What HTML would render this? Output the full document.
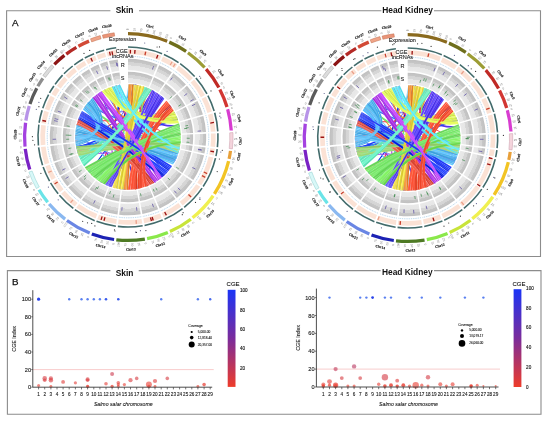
<!DOCTYPE html><html><head><meta charset="utf-8"><style>html,body{margin:0;padding:0;background:#fff;width:550px;height:423px;overflow:hidden}svg{display:block;font-family:"Liberation Sans",sans-serif;will-change:transform;}</style></head><body>
<svg width="550" height="423" viewBox="0 0 550 423">
<rect width="550" height="423" fill="#fff"/>
<g fill="none" stroke="#8c8c8c" stroke-width="1.1"><path d="M110.4 10.8H6.6V256.5H540.5V10.8H434M381.4 10.8H139"/><path d="M110.4 270.6H7.4V414.2H541V270.6H434M380.6 270.6H138.7"/></g>
<g font-weight="bold" fill="#111" font-size="8.4"><text x="124.5" y="13.2" text-anchor="middle">Skin</text><text x="407.6" y="13.3" text-anchor="middle">Head Kidney</text><text x="124.5" y="275.6" text-anchor="middle">Skin</text><text x="407.3" y="275.4" text-anchor="middle">Head Kidney</text></g>
<g fill="#111" stroke="#111" stroke-width="0.25" font-size="9.8"><text x="12" y="25.6">A</text><text x="12" y="285.4">B</text></g>
<g id="circ"><defs><radialGradient id="g1S" gradientUnits="userSpaceOnUse" cx="128" cy="137" r="65.2"><stop offset="0.830" stop-color="#e9e9e9"/><stop offset="0.901" stop-color="#e6e6e6"/><stop offset="0.901" stop-color="#d7d7d7"/><stop offset="0.949" stop-color="#d4d4d4"/><stop offset="0.949" stop-color="#c7c7c7"/><stop offset="1.000" stop-color="#c0c0c0"/></radialGradient><radialGradient id="g1R" gradientUnits="userSpaceOnUse" cx="128" cy="137" r="78.2"><stop offset="0.854" stop-color="#e9e9e9"/><stop offset="0.915" stop-color="#e6e6e6"/><stop offset="0.915" stop-color="#d7d7d7"/><stop offset="0.956" stop-color="#d4d4d4"/><stop offset="0.956" stop-color="#c7c7c7"/><stop offset="1.000" stop-color="#c0c0c0"/></radialGradient></defs>
<path d="M128 31.9A105.1 105.1 0 0 1 167.8 39.7L166.6 42.8A101.8 101.8 0 0 0 128 35.2Z" fill="#8a6a1e"/>
<path d="M169.9 40.6A105.1 105.1 0 0 1 187 50L185.2 52.8A101.8 101.8 0 0 0 168.6 43.7Z" fill="#6e6e1c"/>
<path d="M188.9 51.4A105.1 105.1 0 0 1 205.8 66.4L203.4 68.6A101.8 101.8 0 0 0 187 54Z" fill="#9c9c34"/>
<path d="M207.3 68.1A105.1 105.1 0 0 1 220.3 86.7L217.4 88.2A101.8 101.8 0 0 0 204.9 70.2Z" fill="#c02a26"/>
<path d="M221.3 88.7A105.1 105.1 0 0 1 228.6 106.6L225.4 107.5A101.8 101.8 0 0 0 218.4 90.2Z" fill="#d23632"/>
<path d="M229.2 108.8A105.1 105.1 0 0 1 232.9 130.4L229.6 130.6A101.8 101.8 0 0 0 226.1 109.7Z" fill="#d83cd0"/>
<path d="M233 132.6A105.1 105.1 0 0 1 232.4 148.9L229.2 148.5A101.8 101.8 0 0 0 229.7 132.8Z" fill="#f4d4dc" stroke="#c89aa8" stroke-width="0.5"/>
<path d="M232.1 151.1A105.1 105.1 0 0 1 230.7 159.3L227.5 158.6A101.8 101.8 0 0 0 228.9 150.7Z" fill="#e8a03a"/>
<path d="M230.2 161.6A105.1 105.1 0 0 1 215.8 194.8L213 193A101.8 101.8 0 0 0 227 160.8Z" fill="#f2c424"/>
<path d="M214.5 196.7A105.1 105.1 0 0 1 193.6 219.1L191.5 216.5A101.8 101.8 0 0 0 211.8 194.8Z" fill="#f0f050"/>
<path d="M191.8 220.5A105.1 105.1 0 0 1 170.6 233.1L169.3 230.1A101.8 101.8 0 0 0 189.8 217.9Z" fill="#c8e43a"/>
<path d="M168.5 234A105.1 105.1 0 0 1 147.4 240.3L146.8 237.1A101.8 101.8 0 0 0 167.2 230.9Z" fill="#8ae84a"/>
<path d="M145.1 240.7A105.1 105.1 0 0 1 116.1 241.4L116.5 238.2A101.8 101.8 0 0 0 144.6 237.4Z" fill="#4e7a24"/>
<path d="M113.9 241.1A105.1 105.1 0 0 1 91.2 235.5L92.4 232.4A101.8 101.8 0 0 0 114.3 237.9Z" fill="#1c22b4"/>
<path d="M89.1 234.6A105.1 105.1 0 0 1 66 221.8L67.9 219.2A101.8 101.8 0 0 0 90.3 231.6Z" fill="#6a86e4"/>
<path d="M64.1 220.5A105.1 105.1 0 0 1 47.9 205L50.4 202.9A101.8 101.8 0 0 0 66.1 217.8Z" fill="#8ab8f0"/>
<path d="M46.4 203.2A105.1 105.1 0 0 1 37.6 190.5L40.4 188.9A101.8 101.8 0 0 0 49 201.2Z" fill="#6ae4e8"/>
<path d="M36.4 188.6A105.1 105.1 0 0 1 28.9 172.1L32.1 171A101.8 101.8 0 0 0 39.3 186.9Z" fill="#d8f8f8" stroke="#8ccccc" stroke-width="0.5"/>
<path d="M28.2 170A105.1 105.1 0 0 1 23.6 149.1L26.9 148.7A101.8 101.8 0 0 0 31.3 168.9Z" fill="#7a22c4"/>
<path d="M23.4 146.8A105.1 105.1 0 0 1 23.9 122.6L27.2 123.1A101.8 101.8 0 0 0 26.6 146.5Z" fill="#a442e0"/>
<path d="M24.2 120.3A105.1 105.1 0 0 1 27.7 105.6L30.8 106.6A101.8 101.8 0 0 0 27.5 120.9Z" fill="#b894e8"/>
<path d="M28.4 103.4A105.1 105.1 0 0 1 35.3 87.5L38.2 89.1A101.8 101.8 0 0 0 31.5 104.5Z" fill="#5a5a5a"/>
<path d="M36.4 85.5A105.1 105.1 0 0 1 41.5 77.4L44.2 79.2A101.8 101.8 0 0 0 39.2 87.1Z" fill="#8e8e8e"/>
<path d="M42.8 75.5A105.1 105.1 0 0 1 51.6 64.8L54 67.1A101.8 101.8 0 0 0 45.5 77.4Z" fill="#dcdcdc" stroke="#a0a0a0" stroke-width="0.5"/>
<path d="M53.2 63.2A105.1 105.1 0 0 1 63.4 54.1L65.4 56.7A101.8 101.8 0 0 0 55.5 65.5Z" fill="#8c1414"/>
<path d="M65.2 52.7A105.1 105.1 0 0 1 75.6 45.9L77.2 48.8A101.8 101.8 0 0 0 67.2 55.4Z" fill="#b42a26"/>
<path d="M77.6 44.8A105.1 105.1 0 0 1 88.4 39.6L89.7 42.7A101.8 101.8 0 0 0 79.2 47.7Z" fill="#d24a36"/>
<path d="M90.5 38.8A105.1 105.1 0 0 1 100.2 35.6L101.1 38.8A101.8 101.8 0 0 0 91.7 41.9Z" fill="#f0a488" stroke="#c07050" stroke-width="0.5"/>
<path d="M102.4 35.1A105.1 105.1 0 0 1 114.2 32.8L114.7 36.1A101.8 101.8 0 0 0 103.2 38.3Z" fill="#ea9478" stroke="#c07050" stroke-width="0.5"/>
<g font-size="3" fill="#7e7e7e" text-anchor="middle" dominant-baseline="central">
<text x="128" y="29.2" transform="rotate(-90 128 29.2)">0</text>
<text x="134.6" y="29.4" transform="rotate(-86.5 134.6 29.4)">25</text>
<text x="141.2" y="30" transform="rotate(-83 141.2 30)">50</text>
<text x="147.7" y="31" transform="rotate(-79.5 147.7 31)">75</text>
<text x="154.1" y="32.4" transform="rotate(-76 154.1 32.4)">100</text>
<text x="160.4" y="34.2" transform="rotate(-72.5 160.4 34.2)">125</text>
<text x="166.7" y="36.4" transform="rotate(-69 166.7 36.4)">150</text>
<text x="171" y="38.2" transform="rotate(-66.5 171 38.2)">0</text>
<text x="177.2" y="41.1" transform="rotate(-62.8 177.2 41.1)">25</text>
<text x="183.2" y="44.4" transform="rotate(-59.2 183.2 44.4)">50</text>
<text x="190.5" y="49.2" transform="rotate(-54.6 190.5 49.2)">0</text>
<text x="195.5" y="53" transform="rotate(-51.2 195.5 53)">25</text>
<text x="200.3" y="57" transform="rotate(-47.9 200.3 57)">50</text>
<text x="204.9" y="61.4" transform="rotate(-44.5 204.9 61.4)">75</text>
<text x="209.4" y="66.3" transform="rotate(-41 209.4 66.3)">0</text>
<text x="213.8" y="71.8" transform="rotate(-37.2 213.8 71.8)">25</text>
<text x="217.9" y="77.6" transform="rotate(-33.5 217.9 77.6)">50</text>
<text x="221.6" y="83.6" transform="rotate(-29.7 221.6 83.6)">75</text>
<text x="223.7" y="87.4" transform="rotate(-27.4 223.7 87.4)">0</text>
<text x="226.4" y="93" transform="rotate(-24.1 226.4 93)">25</text>
<text x="228.8" y="98.8" transform="rotate(-20.8 228.8 98.8)">50</text>
<text x="230.8" y="104.6" transform="rotate(-17.5 230.8 104.6)">75</text>
<text x="231.8" y="108.1" transform="rotate(-15.6 231.8 108.1)">0</text>
<text x="233.4" y="114.3" transform="rotate(-12.2 233.4 114.3)">25</text>
<text x="234.5" y="120.6" transform="rotate(-8.7 234.5 120.6)">50</text>
<text x="235.3" y="127" transform="rotate(-5.3 235.3 127)">75</text>
<text x="235.7" y="132.5" transform="rotate(-2.4 235.7 132.5)">0</text>
<text x="235.8" y="139" transform="rotate(1 235.8 139)">25</text>
<text x="235.5" y="145.4" transform="rotate(4.5 235.5 145.4)">50</text>
<text x="234.8" y="151.5" transform="rotate(7.7 234.8 151.5)">0</text>
<text x="233.5" y="158.9" transform="rotate(11.7 233.5 158.9)">25</text>
<text x="232.8" y="162.2" transform="rotate(13.5 232.8 162.2)">0</text>
<text x="231.1" y="168.5" transform="rotate(17 231.1 168.5)">25</text>
<text x="229" y="174.8" transform="rotate(20.5 229 174.8)">50</text>
<text x="226.5" y="180.8" transform="rotate(24 226.5 180.8)">75</text>
<text x="223.6" y="186.8" transform="rotate(27.5 223.6 186.8)">100</text>
<text x="220.4" y="192.5" transform="rotate(31 220.4 192.5)">125</text>
<text x="216.7" y="198.3" transform="rotate(34.6 216.7 198.3)">0</text>
<text x="212.8" y="203.6" transform="rotate(38.1 212.8 203.6)">25</text>
<text x="208.6" y="208.6" transform="rotate(41.6 208.6 208.6)">50</text>
<text x="204" y="213.4" transform="rotate(45.1 204 213.4)">75</text>
<text x="199.2" y="217.9" transform="rotate(48.6 199.2 217.9)">100</text>
<text x="193.4" y="222.7" transform="rotate(52.6 193.4 222.7)">0</text>
<text x="188.4" y="226.3" transform="rotate(55.9 188.4 226.3)">25</text>
<text x="183.2" y="229.6" transform="rotate(59.2 183.2 229.6)">50</text>
<text x="177.8" y="232.6" transform="rotate(62.5 177.8 232.6)">75</text>
<text x="172.3" y="235.3" transform="rotate(65.8 172.3 235.3)">100</text>
<text x="169.6" y="236.5" transform="rotate(67.3 169.6 236.5)">0</text>
<text x="164.1" y="238.6" transform="rotate(70.5 164.1 238.6)">25</text>
<text x="158.4" y="240.4" transform="rotate(73.6 158.4 240.4)">50</text>
<text x="152.7" y="241.9" transform="rotate(76.7 152.7 241.9)">75</text>
<text x="145.6" y="243.4" transform="rotate(80.6 145.6 243.4)">0</text>
<text x="138.9" y="244.2" transform="rotate(84.2 138.9 244.2)">25</text>
<text x="132.2" y="244.7" transform="rotate(87.8 132.2 244.7)">50</text>
<text x="125.4" y="244.8" transform="rotate(271.4 125.4 244.8)">75</text>
<text x="118.7" y="244.4" transform="rotate(275 118.7 244.4)">100</text>
<text x="113.5" y="243.8" transform="rotate(277.7 113.5 243.8)">0</text>
<text x="107.6" y="242.8" transform="rotate(280.9 107.6 242.8)">25</text>
<text x="101.7" y="241.5" transform="rotate(284.1 101.7 241.5)">50</text>
<text x="95.9" y="239.9" transform="rotate(287.3 95.9 239.9)">75</text>
<text x="88.1" y="237.1" transform="rotate(291.7 88.1 237.1)">0</text>
<text x="82.2" y="234.6" transform="rotate(295.2 82.2 234.6)">25</text>
<text x="76.4" y="231.6" transform="rotate(298.6 76.4 231.6)">50</text>
<text x="70.8" y="228.4" transform="rotate(302 70.8 228.4)">75</text>
<text x="65.4" y="224.8" transform="rotate(305.5 65.4 224.8)">100</text>
<text x="62.5" y="222.6" transform="rotate(307.4 62.5 222.6)">0</text>
<text x="57.4" y="218.5" transform="rotate(310.9 57.4 218.5)">25</text>
<text x="52.6" y="214.1" transform="rotate(314.4 52.6 214.1)">50</text>
<text x="48.1" y="209.4" transform="rotate(317.8 48.1 209.4)">75</text>
<text x="44.3" y="205" transform="rotate(320.9 44.3 205)">0</text>
<text x="40.4" y="199.9" transform="rotate(324.3 40.4 199.9)">25</text>
<text x="36.9" y="194.6" transform="rotate(327.7 36.9 194.6)">50</text>
<text x="34.1" y="189.9" transform="rotate(330.6 34.1 189.9)">0</text>
<text x="30.8" y="183.5" transform="rotate(334.4 30.8 183.5)">25</text>
<text x="27.9" y="177" transform="rotate(338.2 27.9 177)">50</text>
<text x="25.6" y="170.8" transform="rotate(341.7 25.6 170.8)">0</text>
<text x="23.9" y="164.8" transform="rotate(345 23.9 164.8)">25</text>
<text x="22.4" y="158.8" transform="rotate(348.3 22.4 158.8)">50</text>
<text x="21.3" y="152.7" transform="rotate(351.6 21.3 152.7)">75</text>
<text x="20.7" y="147.1" transform="rotate(354.6 20.7 147.1)">0</text>
<text x="20.3" y="140.6" transform="rotate(358.1 20.3 140.6)">25</text>
<text x="20.2" y="134.1" transform="rotate(361.6 20.2 134.1)">50</text>
<text x="20.6" y="127.6" transform="rotate(365 20.6 127.6)">75</text>
<text x="21.6" y="119.9" transform="rotate(369.1 21.6 119.9)">0</text>
<text x="22.8" y="113.5" transform="rotate(372.6 22.8 113.5)">25</text>
<text x="24.4" y="107.2" transform="rotate(376 24.4 107.2)">50</text>
<text x="25.8" y="102.6" transform="rotate(378.6 25.8 102.6)">0</text>
<text x="28.3" y="96" transform="rotate(382.3 28.3 96)">25</text>
<text x="31.2" y="89.7" transform="rotate(386.1 31.2 89.7)">50</text>
<text x="34" y="84.2" transform="rotate(389.3 34 84.2)">0</text>
<text x="36.6" y="79.9" transform="rotate(392 36.6 79.9)">25</text>
<text x="40.6" y="73.9" transform="rotate(395.8 40.6 73.9)">0</text>
<text x="45.1" y="68.1" transform="rotate(399.7 45.1 68.1)">25</text>
<text x="51.3" y="61.3" transform="rotate(404.6 51.3 61.3)">0</text>
<text x="56.3" y="56.5" transform="rotate(408.3 56.3 56.5)">25</text>
<text x="61.5" y="52.1" transform="rotate(411.9 61.5 52.1)">50</text>
<text x="63.6" y="50.5" transform="rotate(413.3 63.6 50.5)">0</text>
<text x="69.1" y="46.7" transform="rotate(416.9 69.1 46.7)">25</text>
<text x="76.3" y="42.4" transform="rotate(421.3 76.3 42.4)">0</text>
<text x="82.5" y="39.3" transform="rotate(425.1 82.5 39.3)">25</text>
<text x="89.6" y="36.3" transform="rotate(429.1 89.6 36.3)">0</text>
<text x="95.7" y="34.2" transform="rotate(432.6 95.7 34.2)">25</text>
<text x="101.8" y="32.4" transform="rotate(435.9 101.8 32.4)">0</text>
<text x="108.8" y="30.9" transform="rotate(439.8 108.8 30.9)">25</text>
</g><g font-size="3.6" font-weight="bold" fill="#1e1e1e" stroke="#1e1e1e" stroke-width="0.15" font-family="Liberation Serif" text-anchor="middle" dominant-baseline="central">
<text x="149.8" y="26.5" transform="rotate(11.1 149.8 26.5)">Chr1</text>
<text x="182.3" y="38.4" transform="rotate(28.9 182.3 38.4)">Chr2</text>
<text x="202.8" y="52.8" transform="rotate(41.6 202.8 52.8)">Chr3</text>
<text x="220.5" y="72.7" transform="rotate(55.2 220.5 72.7)">Chr4</text>
<text x="232.3" y="94.6" transform="rotate(67.9 232.3 94.6)">Chr5</text>
<text x="239" y="118.2" transform="rotate(80.4 239 118.2)">Chr6</text>
<text x="240.5" y="141" transform="rotate(-88 240.5 141)">Chr7</text>
<text x="238.9" y="156.6" transform="rotate(-80 238.9 156.6)">Chr8</text>
<text x="231.3" y="181.8" transform="rotate(-66.5 231.3 181.8)">Chr9</text>
<text x="210.4" y="213.8" transform="rotate(-47 210.4 213.8)">Chr10</text>
<text x="185.4" y="233.9" transform="rotate(-30.7 185.4 233.9)">Chr11</text>
<text x="160.3" y="244.9" transform="rotate(-16.7 160.3 244.9)">Chr12</text>
<text x="130.8" y="249.6" transform="rotate(-1.4 130.8 249.6)">Chr13</text>
<text x="100.6" y="246.2" transform="rotate(14.1 100.6 246.2)">Chr14</text>
<text x="73.5" y="235.5" transform="rotate(28.9 73.5 235.5)">Chr15</text>
<text x="50.4" y="218.6" transform="rotate(43.6 50.4 218.6)">Chr16</text>
<text x="35.6" y="201.3" transform="rotate(55.2 35.6 201.3)">Chr17</text>
<text x="25.5" y="183.6" transform="rotate(65.6 25.5 183.6)">Chr18</text>
<text x="18" y="161.3" transform="rotate(77.6 18 161.3)">Chr19</text>
<text x="15.4" y="134.5" transform="rotate(271.2 15.4 134.5)">Chr20</text>
<text x="18.4" y="111.2" transform="rotate(283.2 18.4 111.2)">Chr21</text>
<text x="24.6" y="92.4" transform="rotate(293.4 24.6 92.4)">Chr22</text>
<text x="32.5" y="77.4" transform="rotate(301.9 32.5 77.4)">Chr23</text>
<text x="41.2" y="65.2" transform="rotate(309.6 41.2 65.2)">Chr24</text>
<text x="53.2" y="52.9" transform="rotate(318.4 53.2 52.9)">Chr25</text>
<text x="66.2" y="42.9" transform="rotate(326.7 66.2 42.9)">Chr26</text>
<text x="79.7" y="35.3" transform="rotate(334.6 79.7 35.3)">Chr27</text>
<text x="93" y="30" transform="rotate(341.9 93 30)">Chr28</text>
<text x="106.9" y="26.4" transform="rotate(349.2 106.9 26.4)">Chr29</text>
</g>
<path d="M128 46.2A90.8 90.8 0 0 1 162.4 53L161.8 54.5A89.2 89.2 0 0 0 128 47.8Z" fill="#426b6b"/>
<path d="M128 49.3A87.7 87.7 0 0 1 161.2 55.8L159.5 60.2A83 83 0 0 0 128 54Z" fill="#fbe2d5"/>
<path d="M128 56.2A80.8 80.8 0 0 1 158.6 62.2" fill="none" stroke="#8fbfe2" stroke-width="0.75" stroke-dasharray="0.9 0.9"/>
<path d="M128 58.8A78.2 78.2 0 0 1 157.6 64.6L153.3 75.2A66.8 66.8 0 0 0 128 70.2Z" fill="url(#g1R)"/>
<path d="M128 71.8A65.2 65.2 0 0 1 152.7 76.7L148.5 86.9A54.1 54.1 0 0 0 128 82.9Z" fill="url(#g1S)"/>
<path d="M164.2 53.7A90.8 90.8 0 0 1 179 61.9L178.1 63.2A89.2 89.2 0 0 0 163.6 55.2Z" fill="#426b6b"/>
<path d="M163 56.6A87.7 87.7 0 0 1 177.3 64.4L174.6 68.3A83 83 0 0 0 161.1 60.9Z" fill="#fbe2d5"/>
<path d="M160.3 62.9A80.8 80.8 0 0 1 173.4 70.2" fill="none" stroke="#8fbfe2" stroke-width="0.75" stroke-dasharray="0.9 0.9"/>
<path d="M159.2 65.3A78.2 78.2 0 0 1 171.9 72.3L165.5 81.7A66.8 66.8 0 0 0 154.7 75.8Z" fill="url(#g1R)"/>
<path d="M154 77.2A65.2 65.2 0 0 1 164.6 83.1L158.4 92.2A54.1 54.1 0 0 0 149.6 87.4Z" fill="url(#g1S)"/>
<path d="M180.6 63A90.8 90.8 0 0 1 195.2 76L194.1 77.1A89.2 89.2 0 0 0 179.7 64.3Z" fill="#426b6b"/>
<path d="M178.8 65.5A87.7 87.7 0 0 1 192.9 78.1L189.5 81.2A83 83 0 0 0 176.1 69.4Z" fill="#fbe2d5"/>
<path d="M174.8 71.2A80.8 80.8 0 0 1 187.8 82.7" fill="none" stroke="#8fbfe2" stroke-width="0.75" stroke-dasharray="0.9 0.9"/>
<path d="M173.3 73.3A78.2 78.2 0 0 1 185.9 84.4L177.5 92.1A66.8 66.8 0 0 0 166.7 82.6Z" fill="url(#g1R)"/>
<path d="M165.8 83.9A65.2 65.2 0 0 1 176.3 93.2L168.1 100.6A54.1 54.1 0 0 0 159.4 92.9Z" fill="url(#g1S)"/>
<path d="M196.6 77.5A90.8 90.8 0 0 1 207.7 93.5L206.3 94.3A89.2 89.2 0 0 0 195.3 78.5Z" fill="#426b6b"/>
<path d="M194.2 79.5A87.7 87.7 0 0 1 205 95L200.9 97.2A83 83 0 0 0 190.7 82.6Z" fill="#fbe2d5"/>
<path d="M189 84A80.8 80.8 0 0 1 198.9 98.3" fill="none" stroke="#8fbfe2" stroke-width="0.75" stroke-dasharray="0.9 0.9"/>
<path d="M187 85.7A78.2 78.2 0 0 1 196.6 99.5L186.6 105A66.8 66.8 0 0 0 178.4 93.2Z" fill="url(#g1R)"/>
<path d="M177.2 94.2A65.2 65.2 0 0 1 185.2 105.8L175.5 111.1A54.1 54.1 0 0 0 168.8 101.5Z" fill="url(#g1S)"/>
<path d="M208.6 95.2A90.8 90.8 0 0 1 214.9 110.7L213.4 111.2A89.2 89.2 0 0 0 207.2 96Z" fill="#426b6b"/>
<path d="M205.9 96.7A87.7 87.7 0 0 1 211.9 111.6L207.4 113A83 83 0 0 0 201.7 98.8Z" fill="#fbe2d5"/>
<path d="M199.8 99.8A80.8 80.8 0 0 1 205.3 113.6" fill="none" stroke="#8fbfe2" stroke-width="0.75" stroke-dasharray="0.9 0.9"/>
<path d="M197.4 101A78.2 78.2 0 0 1 202.9 114.4L191.9 117.7A66.8 66.8 0 0 0 187.3 106.3Z" fill="url(#g1R)"/>
<path d="M185.9 107A65.2 65.2 0 0 1 190.4 118.1L179.8 121.3A54.1 54.1 0 0 0 176 112.1Z" fill="url(#g1S)"/>
<path d="M215.5 112.6A90.8 90.8 0 0 1 218.6 131.3L217 131.4A89.2 89.2 0 0 0 213.9 113Z" fill="#426b6b"/>
<path d="M212.5 113.5A87.7 87.7 0 0 1 215.5 131.5L210.8 131.8A83 83 0 0 0 208 114.7Z" fill="#fbe2d5"/>
<path d="M205.8 115.3A80.8 80.8 0 0 1 208.6 131.9" fill="none" stroke="#8fbfe2" stroke-width="0.75" stroke-dasharray="0.9 0.9"/>
<path d="M203.3 116A78.2 78.2 0 0 1 206 132.1L194.7 132.8A66.8 66.8 0 0 0 192.3 119.1Z" fill="url(#g1R)"/>
<path d="M190.8 119.5A65.2 65.2 0 0 1 193.1 132.9L182 133.6A54.1 54.1 0 0 0 180.1 122.5Z" fill="url(#g1S)"/>
<path d="M218.7 133.2A90.8 90.8 0 0 1 218.2 147.2L216.6 147.1A89.2 89.2 0 0 0 217.1 133.3Z" fill="#426b6b"/>
<path d="M215.6 133.4A87.7 87.7 0 0 1 215.1 146.9L210.5 146.4A83 83 0 0 0 210.9 133.6Z" fill="#fbe2d5"/>
<path d="M208.7 133.7A80.8 80.8 0 0 1 208.3 146.1" fill="none" stroke="#8fbfe2" stroke-width="0.75" stroke-dasharray="0.9 0.9"/>
<path d="M206.1 133.8A78.2 78.2 0 0 1 205.7 145.8L194.4 144.5A66.8 66.8 0 0 0 194.7 134.2Z" fill="url(#g1R)"/>
<path d="M193.1 134.3A65.2 65.2 0 0 1 192.8 144.4L181.8 143.1A54.1 54.1 0 0 0 182.1 134.8Z" fill="url(#g1S)"/>
<path d="M218 149.2A90.8 90.8 0 0 1 216.7 156.3L215.2 156A89.2 89.2 0 0 0 216.4 149Z" fill="#426b6b"/>
<path d="M214.9 148.8A87.7 87.7 0 0 1 213.7 155.6L209.1 154.6A83 83 0 0 0 210.2 148.2Z" fill="#fbe2d5"/>
<path d="M208.1 147.9A80.8 80.8 0 0 1 207 154.2" fill="none" stroke="#8fbfe2" stroke-width="0.75" stroke-dasharray="0.9 0.9"/>
<path d="M205.5 147.5A78.2 78.2 0 0 1 204.4 153.6L193.3 151.2A66.8 66.8 0 0 0 194.2 146Z" fill="url(#g1R)"/>
<path d="M192.6 145.8A65.2 65.2 0 0 1 191.7 150.9L180.9 148.5A54.1 54.1 0 0 0 181.6 144.3Z" fill="url(#g1S)"/>
<path d="M216.3 158.2A90.8 90.8 0 0 1 203.8 187L202.5 186.1A89.2 89.2 0 0 0 214.7 157.9Z" fill="#426b6b"/>
<path d="M213.3 157.5A87.7 87.7 0 0 1 201.2 185.2L197.3 182.7A83 83 0 0 0 208.7 156.4Z" fill="#fbe2d5"/>
<path d="M206.6 155.9A80.8 80.8 0 0 1 195.5 181.4" fill="none" stroke="#8fbfe2" stroke-width="0.75" stroke-dasharray="0.9 0.9"/>
<path d="M204 155.3A78.2 78.2 0 0 1 193.3 180L183.8 173.7A66.8 66.8 0 0 0 192.9 152.6Z" fill="url(#g1R)"/>
<path d="M191.4 152.2A65.2 65.2 0 0 1 182.4 172.9L173.2 166.8A54.1 54.1 0 0 0 180.6 149.7Z" fill="url(#g1S)"/>
<path d="M202.7 188.6A90.8 90.8 0 0 1 184.7 207.9L183.7 206.7A89.2 89.2 0 0 0 201.4 187.7Z" fill="#426b6b"/>
<path d="M200.2 186.8A87.7 87.7 0 0 1 182.7 205.5L179.8 201.8A83 83 0 0 0 196.3 184.2Z" fill="#fbe2d5"/>
<path d="M194.5 182.9A80.8 80.8 0 0 1 178.4 200.1" fill="none" stroke="#8fbfe2" stroke-width="0.75" stroke-dasharray="0.9 0.9"/>
<path d="M192.4 181.4A78.2 78.2 0 0 1 176.8 198.1L169.7 189.2A66.8 66.8 0 0 0 183 175Z" fill="url(#g1R)"/>
<path d="M181.7 174A65.2 65.2 0 0 1 168.7 187.9L161.8 179.3A54.1 54.1 0 0 0 172.5 167.7Z" fill="url(#g1S)"/>
<path d="M183.1 209.2A90.8 90.8 0 0 1 164.8 220L164.2 218.5A89.2 89.2 0 0 0 182.1 207.9Z" fill="#426b6b"/>
<path d="M181.2 206.7A87.7 87.7 0 0 1 163.6 217.2L161.7 212.9A83 83 0 0 0 178.4 203Z" fill="#fbe2d5"/>
<path d="M177 201.2A80.8 80.8 0 0 1 160.8 210.9" fill="none" stroke="#8fbfe2" stroke-width="0.75" stroke-dasharray="0.9 0.9"/>
<path d="M175.5 199.1A78.2 78.2 0 0 1 159.7 208.5L155.1 198.1A66.8 66.8 0 0 0 168.6 190.1Z" fill="url(#g1R)"/>
<path d="M167.6 188.8A65.2 65.2 0 0 1 154.4 196.6L149.9 186.5A54.1 54.1 0 0 0 160.8 180Z" fill="url(#g1S)"/>
<path d="M163 220.8A90.8 90.8 0 0 1 144.7 226.2L144.4 224.7A89.2 89.2 0 0 0 162.4 219.3Z" fill="#426b6b"/>
<path d="M161.8 217.9A87.7 87.7 0 0 1 144.2 223.2L143.3 218.6A83 83 0 0 0 160 213.6Z" fill="#fbe2d5"/>
<path d="M159.1 211.6A80.8 80.8 0 0 1 142.9 216.4" fill="none" stroke="#8fbfe2" stroke-width="0.75" stroke-dasharray="0.9 0.9"/>
<path d="M158.1 209.2A78.2 78.2 0 0 1 142.4 213.9L140.3 202.7A66.8 66.8 0 0 0 153.8 198.6Z" fill="url(#g1R)"/>
<path d="M153.1 197.2A65.2 65.2 0 0 1 140 201.1L138 190.2A54.1 54.1 0 0 0 148.9 186.9Z" fill="url(#g1S)"/>
<path d="M142.8 226.6A90.8 90.8 0 0 1 117.8 227.2L117.9 225.6A89.2 89.2 0 0 0 142.5 225Z" fill="#426b6b"/>
<path d="M142.3 223.5A87.7 87.7 0 0 1 118.1 224.1L118.6 219.5A83 83 0 0 0 141.5 218.9Z" fill="#fbe2d5"/>
<path d="M141.2 216.7A80.8 80.8 0 0 1 118.9 217.3" fill="none" stroke="#8fbfe2" stroke-width="0.75" stroke-dasharray="0.9 0.9"/>
<path d="M140.7 214.2A78.2 78.2 0 0 1 119.2 214.7L120.5 203.4A66.8 66.8 0 0 0 138.9 202.9Z" fill="url(#g1R)"/>
<path d="M138.6 201.3A65.2 65.2 0 0 1 120.6 201.8L121.9 190.8A54.1 54.1 0 0 0 136.8 190.4Z" fill="url(#g1S)"/>
<path d="M115.8 227A90.8 90.8 0 0 1 96.2 222.1L96.8 220.6A89.2 89.2 0 0 0 116 225.4Z" fill="#426b6b"/>
<path d="M116.2 223.9A87.7 87.7 0 0 1 97.3 219.2L99 214.8A83 83 0 0 0 116.8 219.2Z" fill="#fbe2d5"/>
<path d="M117.1 217.1A80.8 80.8 0 0 1 99.7 212.7" fill="none" stroke="#8fbfe2" stroke-width="0.75" stroke-dasharray="0.9 0.9"/>
<path d="M117.5 214.5A78.2 78.2 0 0 1 100.6 210.3L104.6 199.6A66.8 66.8 0 0 0 119 203.2Z" fill="url(#g1R)"/>
<path d="M119.2 201.6A65.2 65.2 0 0 1 105.2 198.1L109.1 187.7A54.1 54.1 0 0 0 120.7 190.6Z" fill="url(#g1S)"/>
<path d="M94.4 221.4A90.8 90.8 0 0 1 74.4 210.3L75.3 209A89.2 89.2 0 0 0 95 219.9Z" fill="#426b6b"/>
<path d="M95.5 218.5A87.7 87.7 0 0 1 76.2 207.8L79 204A83 83 0 0 0 97.3 214.1Z" fill="#fbe2d5"/>
<path d="M98.1 212.1A80.8 80.8 0 0 1 80.3 202.2" fill="none" stroke="#8fbfe2" stroke-width="0.75" stroke-dasharray="0.9 0.9"/>
<path d="M99.1 209.6A78.2 78.2 0 0 1 81.8 200.1L88.6 190.9A66.8 66.8 0 0 0 103.3 199.1Z" fill="url(#g1R)"/>
<path d="M103.9 197.6A65.2 65.2 0 0 1 89.5 189.6L96.1 180.7A54.1 54.1 0 0 0 108 187.3Z" fill="url(#g1S)"/>
<path d="M72.8 209.1A90.8 90.8 0 0 1 58.8 195.8L60 194.7A89.2 89.2 0 0 0 73.8 207.8Z" fill="#426b6b"/>
<path d="M74.7 206.6A87.7 87.7 0 0 1 61.1 193.8L64.7 190.7A83 83 0 0 0 77.6 202.9Z" fill="#fbe2d5"/>
<path d="M78.9 201.2A80.8 80.8 0 0 1 66.4 189.3" fill="none" stroke="#8fbfe2" stroke-width="0.75" stroke-dasharray="0.9 0.9"/>
<path d="M80.5 199.1A78.2 78.2 0 0 1 68.4 187.6L77.1 180.2A66.8 66.8 0 0 0 87.4 190Z" fill="url(#g1R)"/>
<path d="M88.4 188.8A65.2 65.2 0 0 1 78.3 179.2L86.8 172A54.1 54.1 0 0 0 95.1 180Z" fill="url(#g1S)"/>
<path d="M57.5 194.2A90.8 90.8 0 0 1 49.9 183.3L51.2 182.4A89.2 89.2 0 0 0 58.8 193.2Z" fill="#426b6b"/>
<path d="M59.9 192.3A87.7 87.7 0 0 1 52.5 181.7L56.6 179.3A83 83 0 0 0 63.6 189.3Z" fill="#fbe2d5"/>
<path d="M65.3 187.9A80.8 80.8 0 0 1 58.5 178.2" fill="none" stroke="#8fbfe2" stroke-width="0.75" stroke-dasharray="0.9 0.9"/>
<path d="M67.3 186.3A78.2 78.2 0 0 1 60.7 176.8L70.5 171A66.8 66.8 0 0 0 76.1 179.1Z" fill="url(#g1R)"/>
<path d="M77.4 178.1A65.2 65.2 0 0 1 71.9 170.2L81.4 164.6A54.1 54.1 0 0 0 86 171.1Z" fill="url(#g1S)"/>
<path d="M48.9 181.5A90.8 90.8 0 0 1 42.4 167.3L43.9 166.8A89.2 89.2 0 0 0 50.3 180.8Z" fill="#426b6b"/>
<path d="M51.6 180A87.7 87.7 0 0 1 45.3 166.3L49.8 164.7A83 83 0 0 0 55.7 177.7Z" fill="#fbe2d5"/>
<path d="M57.6 176.6A80.8 80.8 0 0 1 51.8 164" fill="none" stroke="#8fbfe2" stroke-width="0.75" stroke-dasharray="0.9 0.9"/>
<path d="M59.9 175.4A78.2 78.2 0 0 1 54.3 163.1L65 159.3A66.8 66.8 0 0 0 69.8 169.8Z" fill="url(#g1R)"/>
<path d="M71.2 169A65.2 65.2 0 0 1 66.5 158.8L77 155.1A54.1 54.1 0 0 0 80.9 163.5Z" fill="url(#g1S)"/>
<path d="M41.8 165.5A90.8 90.8 0 0 1 37.8 147.5L39.4 147.3A89.2 89.2 0 0 0 43.3 165Z" fill="#426b6b"/>
<path d="M44.7 164.5A87.7 87.7 0 0 1 40.9 147.1L45.6 146.6A83 83 0 0 0 49.2 163Z" fill="#fbe2d5"/>
<path d="M51.3 162.3A80.8 80.8 0 0 1 47.7 146.3" fill="none" stroke="#8fbfe2" stroke-width="0.75" stroke-dasharray="0.9 0.9"/>
<path d="M53.7 161.5A78.2 78.2 0 0 1 50.3 146L61.6 144.7A66.8 66.8 0 0 0 64.6 157.9Z" fill="url(#g1R)"/>
<path d="M66.1 157.4A65.2 65.2 0 0 1 63.2 144.5L74.3 143.2A54.1 54.1 0 0 0 76.6 154Z" fill="url(#g1S)"/>
<path d="M37.6 145.5A90.8 90.8 0 0 1 38.1 124.6L39.6 124.8A89.2 89.2 0 0 0 39.2 145.4Z" fill="#426b6b"/>
<path d="M40.7 145.2A87.7 87.7 0 0 1 41.1 125L45.8 125.6A83 83 0 0 0 45.4 144.8Z" fill="#fbe2d5"/>
<path d="M47.6 144.6A80.8 80.8 0 0 1 48 125.9" fill="none" stroke="#8fbfe2" stroke-width="0.75" stroke-dasharray="0.9 0.9"/>
<path d="M50.1 144.3A78.2 78.2 0 0 1 50.5 126.3L61.8 127.8A66.8 66.8 0 0 0 61.5 143.3Z" fill="url(#g1R)"/>
<path d="M63.1 143.1A65.2 65.2 0 0 1 63.4 128.1L74.4 129.6A54.1 54.1 0 0 0 74.1 142.1Z" fill="url(#g1S)"/>
<path d="M38.3 122.6A90.8 90.8 0 0 1 41.3 109.9L42.9 110.4A89.2 89.2 0 0 0 39.9 122.9Z" fill="#426b6b"/>
<path d="M41.4 123.1A87.7 87.7 0 0 1 44.3 110.8L48.8 112.2A83 83 0 0 0 46.1 123.8Z" fill="#fbe2d5"/>
<path d="M48.2 124.2A80.8 80.8 0 0 1 50.9 112.9" fill="none" stroke="#8fbfe2" stroke-width="0.75" stroke-dasharray="0.9 0.9"/>
<path d="M50.8 124.6A78.2 78.2 0 0 1 53.4 113.6L64.2 117.1A66.8 66.8 0 0 0 62 126.4Z" fill="url(#g1R)"/>
<path d="M63.6 126.7A65.2 65.2 0 0 1 65.8 117.5L76.4 120.8A54.1 54.1 0 0 0 74.6 128.4Z" fill="url(#g1S)"/>
<path d="M42 108A90.8 90.8 0 0 1 47.9 94.3L49.3 95A89.2 89.2 0 0 0 43.5 108.5Z" fill="#426b6b"/>
<path d="M44.9 109A87.7 87.7 0 0 1 50.6 95.7L54.8 97.9A83 83 0 0 0 49.3 110.5Z" fill="#fbe2d5"/>
<path d="M51.4 111.2A80.8 80.8 0 0 1 56.7 99" fill="none" stroke="#8fbfe2" stroke-width="0.75" stroke-dasharray="0.9 0.9"/>
<path d="M53.9 112A78.2 78.2 0 0 1 59 100.2L69.1 105.6A66.8 66.8 0 0 0 64.7 115.7Z" fill="url(#g1R)"/>
<path d="M66.2 116.2A65.2 65.2 0 0 1 70.5 106.3L80.3 111.5A54.1 54.1 0 0 0 76.7 119.7Z" fill="url(#g1S)"/>
<path d="M48.8 92.5A90.8 90.8 0 0 1 53.2 85.5L54.6 86.4A89.2 89.2 0 0 0 50.2 93.3Z" fill="#426b6b"/>
<path d="M51.5 94A87.7 87.7 0 0 1 55.8 87.2L59.7 89.9A83 83 0 0 0 55.6 96.4Z" fill="#fbe2d5"/>
<path d="M57.6 97.4A80.8 80.8 0 0 1 61.5 91.1" fill="none" stroke="#8fbfe2" stroke-width="0.75" stroke-dasharray="0.9 0.9"/>
<path d="M59.8 98.7A78.2 78.2 0 0 1 63.6 92.6L73 99.1A66.8 66.8 0 0 0 69.8 104.3Z" fill="url(#g1R)"/>
<path d="M71.2 105.1A65.2 65.2 0 0 1 74.3 100L83.5 106.3A54.1 54.1 0 0 0 80.8 110.5Z" fill="url(#g1S)"/>
<path d="M54.4 83.9A90.8 90.8 0 0 1 62 74.6L63.2 75.7A89.2 89.2 0 0 0 55.7 84.8Z" fill="#426b6b"/>
<path d="M56.9 85.7A87.7 87.7 0 0 1 64.3 76.8L67.7 80A83 83 0 0 0 60.7 88.4Z" fill="#fbe2d5"/>
<path d="M62.5 89.7A80.8 80.8 0 0 1 69.3 81.5" fill="none" stroke="#8fbfe2" stroke-width="0.75" stroke-dasharray="0.9 0.9"/>
<path d="M64.6 91.2A78.2 78.2 0 0 1 71.2 83.3L79.4 91.1A66.8 66.8 0 0 0 73.8 97.9Z" fill="url(#g1R)"/>
<path d="M75.1 98.8A65.2 65.2 0 0 1 80.6 92.2L88.7 99.8A54.1 54.1 0 0 0 84.1 105.3Z" fill="url(#g1S)"/>
<path d="M63.4 73.2A90.8 90.8 0 0 1 72.2 65.4L73.2 66.6A89.2 89.2 0 0 0 64.5 74.3Z" fill="#426b6b"/>
<path d="M65.6 75.4A87.7 87.7 0 0 1 74.1 67.8L77 71.5A83 83 0 0 0 68.9 78.7Z" fill="#fbe2d5"/>
<path d="M70.5 80.2A80.8 80.8 0 0 1 78.3 73.3" fill="none" stroke="#8fbfe2" stroke-width="0.75" stroke-dasharray="0.9 0.9"/>
<path d="M72.3 82.1A78.2 78.2 0 0 1 79.9 75.3L86.9 84.3A66.8 66.8 0 0 0 80.5 90.1Z" fill="url(#g1R)"/>
<path d="M81.6 91.2A65.2 65.2 0 0 1 87.9 85.6L94.7 94.3A54.1 54.1 0 0 0 89.5 99Z" fill="url(#g1S)"/>
<path d="M73.8 64.2A90.8 90.8 0 0 1 82.7 58.3L83.5 59.7A89.2 89.2 0 0 0 74.7 65.5Z" fill="#426b6b"/>
<path d="M75.6 66.7A87.7 87.7 0 0 1 84.3 61L86.6 65.1A83 83 0 0 0 78.4 70.4Z" fill="#fbe2d5"/>
<path d="M79.7 72.2A80.8 80.8 0 0 1 87.7 67" fill="none" stroke="#8fbfe2" stroke-width="0.75" stroke-dasharray="0.9 0.9"/>
<path d="M81.3 74.3A78.2 78.2 0 0 1 89 69.2L94.7 79.1A66.8 66.8 0 0 0 88.1 83.4Z" fill="url(#g1R)"/>
<path d="M89.1 84.7A65.2 65.2 0 0 1 95.5 80.5L101 90.1A54.1 54.1 0 0 0 95.7 93.6Z" fill="url(#g1S)"/>
<path d="M84.4 57.3A90.8 90.8 0 0 1 93.8 52.9L94.4 54.4A89.2 89.2 0 0 0 85.2 58.7Z" fill="#426b6b"/>
<path d="M85.9 60.1A87.7 87.7 0 0 1 95 55.8L96.7 60.1A83 83 0 0 0 88.2 64.2Z" fill="#fbe2d5"/>
<path d="M89.2 66.1A80.8 80.8 0 0 1 97.6 62.1" fill="none" stroke="#8fbfe2" stroke-width="0.75" stroke-dasharray="0.9 0.9"/>
<path d="M90.5 68.4A78.2 78.2 0 0 1 98.5 64.6L102.8 75.1A66.8 66.8 0 0 0 95.9 78.4Z" fill="url(#g1R)"/>
<path d="M96.7 79.8A65.2 65.2 0 0 1 103.4 76.6L107.6 86.9A54.1 54.1 0 0 0 102 89.5Z" fill="url(#g1S)"/>
<path d="M95.6 52.2A90.8 90.8 0 0 1 104 49.4L104.4 51A89.2 89.2 0 0 0 96.2 53.7Z" fill="#426b6b"/>
<path d="M96.7 55.1A87.7 87.7 0 0 1 104.8 52.4L106.1 57A83 83 0 0 0 98.4 59.4Z" fill="#fbe2d5"/>
<path d="M99.2 61.5A80.8 80.8 0 0 1 106.6 59.1" fill="none" stroke="#8fbfe2" stroke-width="0.75" stroke-dasharray="0.9 0.9"/>
<path d="M100.1 63.9A78.2 78.2 0 0 1 107.3 61.6L110.3 72.6A66.8 66.8 0 0 0 104.2 74.6Z" fill="url(#g1R)"/>
<path d="M104.8 76.1A65.2 65.2 0 0 1 110.8 74.1L113.7 84.8A54.1 54.1 0 0 0 108.7 86.5Z" fill="url(#g1S)"/>
<path d="M105.9 48.9A90.8 90.8 0 0 1 116.1 47L116.3 48.6A89.2 89.2 0 0 0 106.3 50.5Z" fill="#426b6b"/>
<path d="M106.7 51.9A87.7 87.7 0 0 1 116.5 50.1L117.1 54.7A83 83 0 0 0 107.8 56.5Z" fill="#fbe2d5"/>
<path d="M108.3 58.6A80.8 80.8 0 0 1 117.4 56.9" fill="none" stroke="#8fbfe2" stroke-width="0.75" stroke-dasharray="0.9 0.9"/>
<path d="M109 61.1A78.2 78.2 0 0 1 117.8 59.5L119.3 70.8A66.8 66.8 0 0 0 111.8 72.2Z" fill="url(#g1R)"/>
<path d="M112.1 73.8A65.2 65.2 0 0 1 119.5 72.4L120.9 83.4A54.1 54.1 0 0 0 114.8 84.5Z" fill="url(#g1S)"/>
<g fill="none">
<path d="M76.4 148.3Q136.2 126.1 171.2 106.7" fill="none" stroke="#1a3af8" stroke-width="1.5"/>
<path d="M76.9 150.3Q117.5 134.2 109.9 186.6" fill="none" stroke="#5b37eb" stroke-width="1.1"/>
<path d="M180.6 141.4Q134.7 145.1 81.4 112.2" fill="none" stroke="#43d5e5" stroke-width="0.9"/>
<path d="M125.5 189.7Q123.9 129.6 178.8 151.3" fill="none" stroke="#4343f9" stroke-width="1.3"/>
<path d="M176.2 158.6Q120.4 127.3 103.7 183.8" fill="none" stroke="#45adeb" stroke-width="1.4"/>
<path d="M123.7 189.6Q131.9 137.5 75.2 137.6" fill="none" stroke="#3f3ff5" stroke-width="0.8"/>
<path d="M179.7 126.1Q135 127.8 135.2 84.7" fill="none" stroke="#5935e9" stroke-width="1.6"/>
<path d="M147.4 186.1Q132.3 139.3 102 182.9" fill="none" stroke="#c448fc" stroke-width="1.2"/>
<path d="M75.2 138.8Q124 149.3 117.5 188.7" fill="none" stroke="#1232f0" stroke-width="0.7"/>
<path d="M91.2 99.1Q121.6 139.9 129.1 84.2" fill="none" stroke="#5dc5ff" stroke-width="0.7"/>
<path d="M140.4 85.7Q120.6 143.7 101.9 182.9" fill="none" stroke="#6eec6e" stroke-width="1.4"/>
<path d="M75.3 140.8Q120.8 134.3 151.2 89.6" fill="none" stroke="#ff573b" stroke-width="1.2"/>
<path d="M146.9 186.3Q134.7 139.4 91.4 175.1" fill="none" stroke="#5ad85a" stroke-width="1.3"/>
<path d="M77.4 152Q121.6 147.9 119.2 84.9" fill="none" stroke="#0d2deb" stroke-width="1.6"/>
<path d="M135.7 189.2Q128.3 137.2 80.1 114.7" fill="none" stroke="#4824d8" stroke-width="1.5"/>
<path d="M166.5 173.1Q129.2 139.5 161.9 96.6" fill="none" stroke="#1636f4" stroke-width="1.1"/>
<path d="M175 161.1Q127.5 142.5 98.9 92.9" fill="none" stroke="#5b37eb" stroke-width="1.6"/>
<path d="M148.7 88.4Q124.9 151.9 135.7 189.2" fill="none" stroke="#f28c2a" stroke-width="1.5"/>
<path d="M136.1 84.8Q132.4 132 92.5 97.9" fill="none" stroke="#613df1" stroke-width="0.8"/>
<path d="M100.2 92.1Q121.4 150.7 155.2 182.2" fill="none" stroke="#4a26da" stroke-width="1"/>
<path d="M91.2 174.8Q127.8 139.7 85.2 106.1" fill="none" stroke="#f23452" stroke-width="1.3"/>
<path d="M77.9 153.6Q135.5 135.8 176.8 116.7" fill="none" stroke="#5ad85a" stroke-width="1.2"/>
<path d="M104.9 89.5Q126 134.9 175.4 160.3" fill="none" stroke="#1131ef" stroke-width="0.7"/>
<path d="M76.6 124.7Q129.6 135.5 168.8 170.5" fill="none" stroke="#ff4967" stroke-width="0.9"/>
<path d="M77.3 151.6Q133 131 177.1 156.3" fill="none" stroke="#ff5b3f" stroke-width="0.6"/>
<path d="M122.3 189.5Q128.4 135 179.5 148.4" fill="none" stroke="#3dcfdf" stroke-width="1"/>
<path d="M86.1 104.9Q133.9 145.3 129.1 189.8" fill="none" stroke="#50b8f6" stroke-width="0.9"/>
<path d="M179.4 149.2Q143.4 136.2 127.9 189.8" fill="none" stroke="#e52745" stroke-width="0.9"/>
<path d="M86.9 103.8Q141.4 131.6 179.5 148.8" fill="none" stroke="#55bdfb" stroke-width="1.4"/>
<path d="M152.9 90.4Q125.8 132.4 120.9 189.3" fill="none" stroke="#4521d5" stroke-width="1.4"/>
<path d="M136 84.8Q120.9 137 177.2 156" fill="none" stroke="#e63a1e" stroke-width="0.9"/>
<path d="M137.1 189Q130.2 132.2 177.2 156.1" fill="none" stroke="#2242ff" stroke-width="1.1"/>
<path d="M112.5 86.5Q135 126.3 135.5 189.3" fill="none" stroke="#dc3014" stroke-width="0.8"/>
<path d="M124.6 189.7Q132 132.5 94.9 95.9" fill="none" stroke="#45d7e7" stroke-width="1"/>
<path d="M157.5 93.2Q128.3 137.1 75.2 136.9" fill="none" stroke="#e57f1d" stroke-width="1.3"/>
<path d="M151.9 89.9Q132.2 132.9 180.7 134.4" fill="none" stroke="#ff4765" stroke-width="1"/>
<path d="M131 84.3Q120.5 128.3 116.1 85.5" fill="none" stroke="#45adeb" stroke-width="1.4"/>
<path d="M173.1 109.5Q128.7 137.2 75.2 135.7" fill="none" stroke="#f99331" stroke-width="0.7"/>
<path d="M174.7 112.4Q132.6 139.4 155.1 182.3" fill="none" stroke="#3737ed" stroke-width="0.9"/>
<path d="M101.3 91.4Q133.2 148.6 137.7 85.1" fill="none" stroke="#6c48fc" stroke-width="1"/>
<path d="M177.8 119.4Q119.2 132.2 136 84.8" fill="none" stroke="#1636f4" stroke-width="1.3"/>
<path d="M147.3 87.9Q124.6 144.9 147.9 185.9" fill="none" stroke="#e12341" stroke-width="1.1"/>
<path d="M117.8 188.8Q130.3 135.3 179.2 150.1" fill="none" stroke="#6844f8" stroke-width="0.9"/>
<path d="M177.2 117.8Q124.3 140.8 76.1 146.5" fill="none" stroke="#1c3cfa" stroke-width="1.6"/>
<path d="M88.7 172.2Q125.3 129.4 133.7 84.5" fill="none" stroke="#0222e0" stroke-width="1.2"/>
<path d="M76.1 146.8Q113 141.6 106.8 185.3" fill="none" stroke="#51b9f7" stroke-width="1.1"/>
<path d="M77.3 151.8Q120.5 138.7 132.3 189.6" fill="none" stroke="#5fc7ff" stroke-width="1"/>
<path d="M100.9 182.3Q132.4 142.7 78.1 119.8" fill="none" stroke="#a92de1" stroke-width="1.1"/>
<path d="M75.2 135.6Q132.4 132.2 116.8 85.4" fill="none" stroke="#e82a48" stroke-width="1"/>
<path d="M176.5 157.8Q116.1 147.4 100.8 182.3" fill="none" stroke="#2444ff" stroke-width="1.4"/>
<path d="M84.7 106.8Q130.2 122.8 114.6 188.1" fill="none" stroke="#fc9634" stroke-width="1.1"/>
<path d="M99 181.1Q114.1 132.4 178.4 152.8" fill="none" stroke="#4622d6" stroke-width="1.1"/>
<path d="M137.9 85.1Q126.3 146.7 108.3 88" fill="none" stroke="#ee8826" stroke-width="1.5"/>
<path d="M178.8 151.3Q133.1 136.1 86.2 169.3" fill="none" stroke="#fb9533" stroke-width="1.4"/>
<path d="M144.9 87Q129.5 137.7 80.9 113.1" fill="none" stroke="#f33553" stroke-width="1"/>
<path d="M76.9 123.8Q121 142.7 134.3 84.6" fill="none" stroke="#4646fc" stroke-width="0.8"/>
<path d="M125.5 189.7Q127.7 128.9 162.3 96.9" fill="none" stroke="#cc50ff" stroke-width="1.1"/>
<path d="M160.7 178.5Q128.9 136.7 76.7 124.5" fill="none" stroke="#71ef71" stroke-width="0.7"/>
<path d="M179.3 124.5Q123.2 152 166.2 173.4" fill="none" stroke="#eada3a" stroke-width="0.6"/>
<path d="M78.1 119.6Q132.3 135.5 124.1 189.7" fill="none" stroke="#6a46fa" stroke-width="1.4"/>
<path d="M162.8 176.7Q129.3 142.9 118.9 85" fill="none" stroke="#bd41f5" stroke-width="1.5"/>
<path d="M109.9 186.6Q132.9 136.9 77.5 121.7" fill="none" stroke="#4848fe" stroke-width="0.7"/>
<path d="M169.4 169.8Q127.4 136.5 116.2 85.5" fill="none" stroke="#e73b1f" stroke-width="0.7"/>
<path d="M180.1 145.6Q136.6 137 138.3 85.2" fill="none" stroke="#ff4765" stroke-width="0.9"/>
<path d="M175.2 160.6Q123.3 147.7 78.7 156" fill="none" stroke="#b438ec" stroke-width="0.9"/>
<path d="M87.8 102.8Q127.2 135.1 170.5 105.7" fill="none" stroke="#3737ed" stroke-width="0.8"/>
<path d="M139.7 188.5Q128.9 137.4 96.1 95" fill="none" stroke="#ffa03e" stroke-width="0.7"/>
<path d="M86.3 104.6Q127.6 140.2 180.5 142.8" fill="none" stroke="#6cea6c" stroke-width="1.5"/>
<path d="M163.5 97.9Q124.2 132.1 77.1 151" fill="none" stroke="#3aa2e0" stroke-width="1.3"/>
<path d="M113.7 187.8Q130.9 122.9 160.9 178.3" fill="none" stroke="#c64afe" stroke-width="1.2"/>
<path d="M180.6 141.8Q133.5 139.8 78 154" fill="none" stroke="#5bd95b" stroke-width="1.2"/>
<path d="M77.1 151Q131.1 138 164.3 175.3" fill="none" stroke="#ff4361" stroke-width="1"/>
<path d="M180 145.9Q129.4 135.4 146.1 87.4" fill="none" stroke="#75f375" stroke-width="1.2"/>
<path d="M77.8 153.4Q139.7 127.2 143.4 86.5" fill="none" stroke="#ff9b39" stroke-width="1.3"/>
<path d="M179.9 146.8A52.8 52.8 0 0 1 179.5 148.4Q128.2 143.4 77.1 151.1A52.8 52.8 0 0 1 76.7 149.5Q128.1 140.4 179.9 146.8Z" fill="#96d26e" stroke="#fff" stroke-width="0.25" stroke-opacity="0.45"/>
<path d="M163.2 97.7A52.8 52.8 0 0 1 164.3 98.7Q134.4 140.8 111.7 187.2A52.8 52.8 0 0 1 111 187Q131.8 139.3 163.2 97.7Z" fill="#573dfd" stroke="#fff" stroke-width="0.25" stroke-opacity="0.45"/>
<path d="M180.8 138.6A52.8 52.8 0 0 1 180.7 140.2Q131.9 144.3 101.2 182.5A52.8 52.8 0 0 1 99.4 181.4Q130.5 141.7 180.8 138.6Z" fill="#80f060" stroke="#fff" stroke-width="0.25" stroke-opacity="0.45"/>
<path d="M157.2 93A52.8 52.8 0 0 1 158.5 93.9Q134.8 140.7 108.2 186A52.8 52.8 0 0 1 107.5 185.7Q132.1 139.2 157.2 93Z" fill="#583efe" stroke="#fff" stroke-width="0.25" stroke-opacity="0.45"/>
<path d="M130.1 84.2A52.8 52.8 0 0 1 131.8 84.3Q130.1 137.1 126.5 189.8A52.8 52.8 0 0 1 124.9 189.7Q127.1 137 130.1 84.2Z" fill="#f89230" stroke="#fff" stroke-width="0.25" stroke-opacity="0.45"/>
<path d="M113.1 86.4A52.8 52.8 0 0 1 114.5 86Q134.2 130.8 178.9 151A52.8 52.8 0 0 1 178.6 152.1Q132.1 132.9 113.1 86.4Z" fill="#39cbdb" stroke="#fff" stroke-width="0.25" stroke-opacity="0.45"/>
<path d="M88.4 102.1A52.8 52.8 0 0 1 89.4 101Q115.2 132.9 75.6 143.4A52.8 52.8 0 0 1 75.5 142.5Q112.3 132 88.4 102.1Z" fill="#37a3e3" stroke="#fff" stroke-width="0.25" stroke-opacity="0.45"/>
<path d="M179.2 150.1A52.8 52.8 0 0 1 178.7 151.7Q128.2 144.9 78.1 154.3A52.8 52.8 0 0 1 77.6 152.7Q128.1 141.9 179.2 150.1Z" fill="#9eda76" stroke="#fff" stroke-width="0.25" stroke-opacity="0.45"/>
<path d="M173.7 110.6A52.8 52.8 0 0 1 174.5 111.9Q131.6 127.7 110.5 87.2A52.8 52.8 0 0 1 111.7 86.8Q132.7 124.9 173.7 110.6Z" fill="#edff5d" stroke="#fff" stroke-width="0.25" stroke-opacity="0.45"/>
<path d="M180.8 135.5A52.8 52.8 0 0 1 180.8 137Q133.1 146.8 97.7 180.3A52.8 52.8 0 0 1 96.1 179Q131.7 144.2 180.8 135.5Z" fill="#87f979" stroke="#fff" stroke-width="0.25" stroke-opacity="0.45"/>
<path d="M144.3 86.8A52.8 52.8 0 0 1 145.9 87.3Q124.4 133.6 79.6 158.1A52.8 52.8 0 0 1 78.7 155.9Q122.2 131.6 144.3 86.8Z" fill="#69efc3" stroke="#fff" stroke-width="0.25" stroke-opacity="0.45"/>
<path d="M153 183.5A52.8 52.8 0 0 1 151.5 184.3Q121.7 144.4 77.6 121.4A52.8 52.8 0 0 1 78 120.2Q123.7 142.1 153 183.5Z" fill="#e34b3b" stroke="#fff" stroke-width="0.25" stroke-opacity="0.45"/>
<path d="M175.9 114.7A52.8 52.8 0 0 1 176.5 116.1Q131.5 128.3 107.1 88.5A52.8 52.8 0 0 1 108.2 88Q132.6 125.5 175.9 114.7Z" fill="#ebff5b" stroke="#fff" stroke-width="0.25" stroke-opacity="0.45"/>
<path d="M176.6 157.7A52.8 52.8 0 0 1 175.9 159.1Q125.7 145.1 75.5 131A52.8 52.8 0 0 1 75.7 129.5Q126.5 142.2 176.6 157.7Z" fill="#3fa7e5" stroke="#fff" stroke-width="0.25" stroke-opacity="0.45"/>
<path d="M158.3 180.3A52.8 52.8 0 0 1 157 181.1Q123.2 140.5 95.5 95.4A52.8 52.8 0 0 1 97 94.3Q125.6 138.7 158.3 180.3Z" fill="#ab2fe3" stroke="#fff" stroke-width="0.25" stroke-opacity="0.45"/>
<path d="M177.6 118.9A52.8 52.8 0 0 1 178.1 120.4Q132.3 126.3 103.8 90.1A52.8 52.8 0 0 1 104.9 89.5Q133.5 123.5 177.6 118.9Z" fill="#c2da32" stroke="#fff" stroke-width="0.25" stroke-opacity="0.45"/>
<path d="M171.2 167.4A52.8 52.8 0 0 1 170.3 168.6Q125.1 141.6 81.2 112.5A52.8 52.8 0 0 1 81.6 111.8Q126.7 139 171.2 167.4Z" fill="#1733f5" stroke="#fff" stroke-width="0.25" stroke-opacity="0.45"/>
<path d="M165.3 174.4A52.8 52.8 0 0 1 164.2 175.4Q123.1 144.3 79 117.3A52.8 52.8 0 0 1 79.3 116.5Q124.8 141.8 165.3 174.4Z" fill="#102cee" stroke="#fff" stroke-width="0.25" stroke-opacity="0.45"/>
<path d="M135.1 84.7A52.8 52.8 0 0 1 136.6 84.9Q129.5 137.3 115.6 188.3A52.8 52.8 0 0 1 114.1 187.9Q126.5 136.7 135.1 84.7Z" fill="#ebdb3b" stroke="#fff" stroke-width="0.25" stroke-opacity="0.45"/>
<path d="M83.8 108.1A52.8 52.8 0 0 1 84.6 106.9Q114 132.9 75.2 138.8A52.8 52.8 0 0 1 75.2 137.9Q111.1 132.1 83.8 108.1Z" fill="#3da9e9" stroke="#fff" stroke-width="0.25" stroke-opacity="0.45"/>
<path d="M153.3 90.7A52.8 52.8 0 0 1 154.6 91.4Q136.8 141.5 106.2 185.1A52.8 52.8 0 0 1 105.5 184.8Q134.2 140.2 153.3 90.7Z" fill="#391fdf" stroke="#fff" stroke-width="0.25" stroke-opacity="0.45"/>
<path d="M180.2 129.3A52.8 52.8 0 0 1 180.4 130.9Q131.7 144.5 91.4 175.1A52.8 52.8 0 0 1 89.9 173.6Q130.4 141.8 180.2 129.3Z" fill="#79eb6b" stroke="#fff" stroke-width="0.25" stroke-opacity="0.45"/>
<path d="M148.5 185.7A52.8 52.8 0 0 1 146.9 186.3Q121.4 144.6 76.6 125.1A52.8 52.8 0 0 1 76.9 123.9Q123.3 142.4 148.5 185.7Z" fill="#d73f2f" stroke="#fff" stroke-width="0.25" stroke-opacity="0.45"/>
<path d="M89.4 101A52.8 52.8 0 0 1 90.5 99.9Q116.3 133.2 75.7 144.3A52.8 52.8 0 0 1 75.6 143.4Q113.5 132.2 89.4 101Z" fill="#48b4f4" stroke="#fff" stroke-width="0.25" stroke-opacity="0.45"/>
<path d="M164.2 175.4A52.8 52.8 0 0 1 163.1 176.5Q124.7 141.8 78.7 118.1A52.8 52.8 0 0 1 79 117.3Q126.4 139.3 164.2 175.4Z" fill="#001adc" stroke="#fff" stroke-width="0.25" stroke-opacity="0.45"/>
<path d="M91.6 98.8A52.8 52.8 0 0 1 92.7 97.8Q119.2 134 76 146.2A52.8 52.8 0 0 1 75.9 145.3Q116.4 133 91.6 98.8Z" fill="#3aa6e6" stroke="#fff" stroke-width="0.25" stroke-opacity="0.45"/>
<path d="M175.2 113.3A52.8 52.8 0 0 1 175.9 114.7Q132.3 126 108.2 88A52.8 52.8 0 0 1 109.4 87.6Q133.4 123.2 175.2 113.3Z" fill="#cce43c" stroke="#fff" stroke-width="0.25" stroke-opacity="0.45"/>
<path d="M177.1 117.5A52.8 52.8 0 0 1 177.6 118.9Q130.8 130.1 104.9 89.5A52.8 52.8 0 0 1 106 89Q131.9 127.3 177.1 117.5Z" fill="#daf24a" stroke="#fff" stroke-width="0.25" stroke-opacity="0.45"/>
<path d="M133.5 84.5A52.8 52.8 0 0 1 135.1 84.7Q129 137.2 114.1 187.9A52.8 52.8 0 0 1 112.6 187.5Q126.1 136.6 133.5 84.5Z" fill="#f9e949" stroke="#fff" stroke-width="0.25" stroke-opacity="0.45"/>
<path d="M114.5 86A52.8 52.8 0 0 1 115.9 85.6Q134.2 130.8 179.2 149.8A52.8 52.8 0 0 1 178.9 151Q132.1 132.9 114.5 86Z" fill="#5ef0ff" stroke="#fff" stroke-width="0.25" stroke-opacity="0.45"/>
<path d="M177.2 156.2A52.8 52.8 0 0 1 176.6 157.7Q125.8 144.8 75.7 129.5A52.8 52.8 0 0 1 76 128.1Q126.6 141.9 177.2 156.2Z" fill="#48b0ee" stroke="#fff" stroke-width="0.25" stroke-opacity="0.45"/>
<path d="M128.5 84.2A52.8 52.8 0 0 1 130.1 84.2Q129.5 137.1 124.9 189.7A52.8 52.8 0 0 1 123.4 189.6Q126.5 136.9 128.5 84.2Z" fill="#f18b29" stroke="#fff" stroke-width="0.25" stroke-opacity="0.45"/>
<path d="M142.8 86.3A52.8 52.8 0 0 1 144.3 86.8Q129.7 137.3 123.4 189.6A52.8 52.8 0 0 1 121.8 189.4Q126.8 136.8 142.8 86.3Z" fill="#e1d131" stroke="#fff" stroke-width="0.25" stroke-opacity="0.45"/>
<path d="M141.3 85.9A52.8 52.8 0 0 1 142.8 86.3Q130.5 137.5 121.8 189.4A52.8 52.8 0 0 1 120.3 189.2Q127.5 136.9 141.3 85.9Z" fill="#fff151" stroke="#fff" stroke-width="0.25" stroke-opacity="0.45"/>
<path d="M154.6 91.4A52.8 52.8 0 0 1 155.9 92.2Q134 140.1 106.9 185.4A52.8 52.8 0 0 1 106.2 185.1Q131.3 138.7 154.6 91.4Z" fill="#5339f9" stroke="#fff" stroke-width="0.25" stroke-opacity="0.45"/>
<path d="M84.6 106.9A52.8 52.8 0 0 1 85.5 105.6Q114.5 133 75.3 139.8A52.8 52.8 0 0 1 75.2 138.8Q111.7 132.1 84.6 106.9Z" fill="#4cb8f8" stroke="#fff" stroke-width="0.25" stroke-opacity="0.45"/>
<path d="M166.4 173.3A52.8 52.8 0 0 1 165.3 174.4Q124.8 141.8 79.3 116.5A52.8 52.8 0 0 1 79.7 115.7Q126.4 139.4 166.4 173.3Z" fill="#2743ff" stroke="#fff" stroke-width="0.25" stroke-opacity="0.45"/>
<path d="M174.5 111.9A52.8 52.8 0 0 1 175.2 113.3Q132.2 126.3 109.4 87.6A52.8 52.8 0 0 1 110.5 87.2Q133.2 123.5 174.5 111.9Z" fill="#d9f149" stroke="#fff" stroke-width="0.25" stroke-opacity="0.45"/>
<path d="M179.5 148.4A52.8 52.8 0 0 1 179.2 150.1Q128.3 147.1 77.6 152.7A52.8 52.8 0 0 1 77.1 151.1Q128.2 144.1 179.5 148.4Z" fill="#9eda76" stroke="#fff" stroke-width="0.25" stroke-opacity="0.45"/>
<path d="M169.4 104.2A52.8 52.8 0 0 1 170.3 105.4Q133.7 139.3 137.6 188.9A52.8 52.8 0 0 1 135.2 189.3Q130.9 138.2 169.4 104.2Z" fill="#e3371b" stroke="#fff" stroke-width="0.25" stroke-opacity="0.45"/>
<path d="M168.4 103A52.8 52.8 0 0 1 169.4 104.2Q133.3 139.1 135.2 189.3A52.8 52.8 0 0 1 132.8 189.6Q130.5 138 168.4 103Z" fill="#f94d31" stroke="#fff" stroke-width="0.25" stroke-opacity="0.45"/>
<path d="M147.4 87.9A52.8 52.8 0 0 1 149 88.5Q125.7 134.9 81.7 162.4A52.8 52.8 0 0 1 80.6 160.3Q123.5 132.9 147.4 87.9Z" fill="#65ebbf" stroke="#fff" stroke-width="0.25" stroke-opacity="0.45"/>
<path d="M180.8 137A52.8 52.8 0 0 1 180.8 138.6Q131.6 143.9 99.4 181.4A52.8 52.8 0 0 1 97.7 180.3Q130.2 141.2 180.8 137Z" fill="#83f363" stroke="#fff" stroke-width="0.25" stroke-opacity="0.45"/>
<path d="M178.6 121.9A52.8 52.8 0 0 1 179 123.3Q132.1 127.1 101.6 91.3A52.8 52.8 0 0 1 102.7 90.7Q133.2 124.4 178.6 121.9Z" fill="#e2fa52" stroke="#fff" stroke-width="0.25" stroke-opacity="0.45"/>
<path d="M172.1 108A52.8 52.8 0 0 1 172.9 109.3Q135.9 139.9 144.6 187.1A52.8 52.8 0 0 1 142.3 187.8Q133 138.9 172.1 108Z" fill="#ff5539" stroke="#fff" stroke-width="0.25" stroke-opacity="0.45"/>
<path d="M162.1 96.7A52.8 52.8 0 0 1 163.2 97.7Q136.2 141.8 111 187A52.8 52.8 0 0 1 110.3 186.7Q133.6 140.2 162.1 96.7Z" fill="#351bdb" stroke="#fff" stroke-width="0.25" stroke-opacity="0.45"/>
<path d="M117.3 85.3A52.8 52.8 0 0 1 118.8 85Q135.8 129.4 179.8 147.4A52.8 52.8 0 0 1 179.5 148.6Q133.6 131.5 117.3 85.3Z" fill="#53e5f5" stroke="#fff" stroke-width="0.25" stroke-opacity="0.45"/>
<path d="M180.4 130.9A52.8 52.8 0 0 1 180.6 132.4Q132.7 146.3 92.9 176.4A52.8 52.8 0 0 1 91.4 175.1Q131.3 143.7 180.4 130.9Z" fill="#7cee6e" stroke="#fff" stroke-width="0.25" stroke-opacity="0.45"/>
<path d="M170.3 105.4A52.8 52.8 0 0 1 171.2 106.7Q138.4 141 140 188.4A52.8 52.8 0 0 1 137.6 188.9Q135.6 139.9 170.3 105.4Z" fill="#ec4024" stroke="#fff" stroke-width="0.25" stroke-opacity="0.45"/>
<path d="M173.8 163.3A52.8 52.8 0 0 1 173 164.6Q125.7 145.1 75.2 137A52.8 52.8 0 0 1 75.2 135.5Q126.5 142.3 173.8 163.3Z" fill="#60c8ff" stroke="#fff" stroke-width="0.25" stroke-opacity="0.45"/>
<path d="M86.4 104.4A52.8 52.8 0 0 1 87.4 103.2Q118.9 134.2 75.4 141.6A52.8 52.8 0 0 1 75.3 140.7Q116 133.3 86.4 104.4Z" fill="#4db9f9" stroke="#fff" stroke-width="0.25" stroke-opacity="0.45"/>
<path d="M179 123.3A52.8 52.8 0 0 1 179.4 124.8Q131.3 144 86 168.9A52.8 52.8 0 0 1 84.7 167.3Q130 141.3 179 123.3Z" fill="#64d656" stroke="#fff" stroke-width="0.25" stroke-opacity="0.45"/>
<path d="M169.4 169.8A52.8 52.8 0 0 1 168.4 171Q126 140.1 80.4 114.1A52.8 52.8 0 0 1 80.8 113.3Q127.6 137.6 169.4 169.8Z" fill="#0b27e9" stroke="#fff" stroke-width="0.25" stroke-opacity="0.45"/>
<path d="M159.7 94.8A52.8 52.8 0 0 1 160.9 95.7Q135.9 141.4 109.6 186.5A52.8 52.8 0 0 1 108.9 186.2Q133.3 140 159.7 94.8Z" fill="#5a40ff" stroke="#fff" stroke-width="0.25" stroke-opacity="0.45"/>
<path d="M174.6 161.9A52.8 52.8 0 0 1 173.8 163.3Q126.3 142.9 75.2 135.5A52.8 52.8 0 0 1 75.3 134Q127.1 140 174.6 161.9Z" fill="#48b0ee" stroke="#fff" stroke-width="0.25" stroke-opacity="0.45"/>
<path d="M138.2 85.2A52.8 52.8 0 0 1 139.7 85.5Q132.5 137.9 118.7 189A52.8 52.8 0 0 1 117.2 188.7Q129.5 137.3 138.2 85.2Z" fill="#ffef4f" stroke="#fff" stroke-width="0.25" stroke-opacity="0.45"/>
<path d="M168.4 171A52.8 52.8 0 0 1 167.4 172.2Q122.8 145.1 80.1 114.9A52.8 52.8 0 0 1 80.4 114.1Q124.4 142.5 168.4 171Z" fill="#2440ff" stroke="#fff" stroke-width="0.25" stroke-opacity="0.45"/>
<path d="M157 181.1A52.8 52.8 0 0 1 155.7 181.9Q121.3 141.8 94.1 96.6A52.8 52.8 0 0 1 95.5 95.4Q123.7 140.1 157 181.1Z" fill="#b539ed" stroke="#fff" stroke-width="0.25" stroke-opacity="0.45"/>
<path d="M166.3 100.7A52.8 52.8 0 0 1 167.4 101.8Q134.3 139.7 130.4 189.7A52.8 52.8 0 0 1 128 189.8Q131.5 138.5 166.3 100.7Z" fill="#ff563a" stroke="#fff" stroke-width="0.25" stroke-opacity="0.45"/>
<path d="M145.9 87.3A52.8 52.8 0 0 1 147.4 87.9Q122.7 132.1 80.6 160.3A52.8 52.8 0 0 1 79.6 158.1Q120.5 130 145.9 87.3Z" fill="#60e6ba" stroke="#fff" stroke-width="0.25" stroke-opacity="0.45"/>
<path d="M178.7 151.7A52.8 52.8 0 0 1 178.2 153.3Q128.2 143.3 78.7 155.9A52.8 52.8 0 0 1 78.1 154.3Q128.1 140.3 178.7 151.7Z" fill="#9bd773" stroke="#fff" stroke-width="0.25" stroke-opacity="0.45"/>
<path d="M154.4 182.7A52.8 52.8 0 0 1 153 183.5Q122.3 143.7 78 120.2A52.8 52.8 0 0 1 78.4 118.9Q124.3 141.4 154.4 182.7Z" fill="#d23a2a" stroke="#fff" stroke-width="0.25" stroke-opacity="0.45"/>
<path d="M87.4 103.2A52.8 52.8 0 0 1 88.4 102.1Q120 134.5 75.5 142.5A52.8 52.8 0 0 1 75.4 141.6Q117.1 133.6 87.4 103.2Z" fill="#35a1e1" stroke="#fff" stroke-width="0.25" stroke-opacity="0.45"/>
<path d="M180.7 133.9A52.8 52.8 0 0 1 180.8 135.5Q131.9 144.6 96.1 179A52.8 52.8 0 0 1 94.5 177.8Q130.5 141.9 180.7 133.9Z" fill="#69db5b" stroke="#fff" stroke-width="0.25" stroke-opacity="0.45"/>
<path d="M167.4 101.8A52.8 52.8 0 0 1 168.4 103Q137 140.7 132.8 189.6A52.8 52.8 0 0 1 130.4 189.7Q134.2 139.6 167.4 101.8Z" fill="#fc5034" stroke="#fff" stroke-width="0.25" stroke-opacity="0.45"/>
<path d="M178.2 153.3A52.8 52.8 0 0 1 177.7 154.8Q127.2 140 76.2 126.6A52.8 52.8 0 0 1 76.6 125.1Q128 137.1 178.2 153.3Z" fill="#41a9e7" stroke="#fff" stroke-width="0.25" stroke-opacity="0.45"/>
<path d="M131.8 84.3A52.8 52.8 0 0 1 133.5 84.5Q132.5 137.2 128 189.8A52.8 52.8 0 0 1 126.5 189.8Q129.5 137.1 131.8 84.3Z" fill="#e07a18" stroke="#fff" stroke-width="0.25" stroke-opacity="0.45"/>
<path d="M152 90A52.8 52.8 0 0 1 153.3 90.7Q132.9 139.5 105.5 184.8A52.8 52.8 0 0 1 104.9 184.5Q130.2 138.1 152 90Z" fill="#5f45ff" stroke="#fff" stroke-width="0.25" stroke-opacity="0.45"/>
<path d="M167.4 172.2A52.8 52.8 0 0 1 166.4 173.3Q124.9 141.7 79.7 115.7A52.8 52.8 0 0 1 80.1 114.9Q126.6 139.2 167.4 172.2Z" fill="#233fff" stroke="#fff" stroke-width="0.25" stroke-opacity="0.45"/>
<path d="M177.7 154.8A52.8 52.8 0 0 1 177.2 156.2Q126.3 143.1 76 128.1A52.8 52.8 0 0 1 76.2 126.6Q127.1 140.2 177.7 154.8Z" fill="#60c8ff" stroke="#fff" stroke-width="0.25" stroke-opacity="0.45"/>
<path d="M172 166.1A52.8 52.8 0 0 1 171.2 167.4Q125.8 140.5 81.6 111.8A52.8 52.8 0 0 1 82 111Q127.4 138 172 166.1Z" fill="#1a36f8" stroke="#fff" stroke-width="0.25" stroke-opacity="0.45"/>
<path d="M160.9 95.7A52.8 52.8 0 0 1 162.1 96.7Q137.5 142.4 110.3 186.7A52.8 52.8 0 0 1 109.6 186.5Q134.9 140.9 160.9 95.7Z" fill="#4a30f0" stroke="#fff" stroke-width="0.25" stroke-opacity="0.45"/>
<path d="M175.9 159.1A52.8 52.8 0 0 1 175.3 160.5Q126.7 141.8 75.4 132.5A52.8 52.8 0 0 1 75.5 131Q127.5 138.9 175.9 159.1Z" fill="#379fdd" stroke="#fff" stroke-width="0.25" stroke-opacity="0.45"/>
<path d="M90.5 99.9A52.8 52.8 0 0 1 91.6 98.8Q116 133 75.9 145.3A52.8 52.8 0 0 1 75.7 144.3Q113.2 132 90.5 99.9Z" fill="#3eaaea" stroke="#fff" stroke-width="0.25" stroke-opacity="0.45"/>
<path d="M159.5 179.4A52.8 52.8 0 0 1 158.3 180.3Q131.1 134.8 97 94.3A52.8 52.8 0 0 1 98.5 93.2Q133.5 133.1 159.5 179.4Z" fill="#b236ea" stroke="#fff" stroke-width="0.25" stroke-opacity="0.45"/>
<path d="M150 185A52.8 52.8 0 0 1 148.5 185.7Q120.3 145.9 76.9 123.9A52.8 52.8 0 0 1 77.2 122.6Q122.3 143.6 150 185Z" fill="#f55d4d" stroke="#fff" stroke-width="0.25" stroke-opacity="0.45"/>
<path d="M155.9 92.2A52.8 52.8 0 0 1 157.2 93Q136.3 141.4 107.5 185.7A52.8 52.8 0 0 1 106.9 185.4Q133.6 140 155.9 92.2Z" fill="#5d43ff" stroke="#fff" stroke-width="0.25" stroke-opacity="0.45"/>
<path d="M175.3 160.5A52.8 52.8 0 0 1 174.6 161.9Q125.6 145.5 75.3 134A52.8 52.8 0 0 1 75.4 132.5Q126.4 142.6 175.3 160.5Z" fill="#49b1ef" stroke="#fff" stroke-width="0.25" stroke-opacity="0.45"/>
<path d="M151.5 184.3A52.8 52.8 0 0 1 150 185Q122.9 143 77.2 122.6A52.8 52.8 0 0 1 77.6 121.4Q124.8 140.7 151.5 184.3Z" fill="#d84030" stroke="#fff" stroke-width="0.25" stroke-opacity="0.45"/>
<path d="M118.8 85A52.8 52.8 0 0 1 120.2 84.8Q138 127.3 180 146.2A52.8 52.8 0 0 1 179.8 147.4Q135.8 129.4 118.8 85Z" fill="#48daea" stroke="#fff" stroke-width="0.25" stroke-opacity="0.45"/>
<path d="M180.2 145.1A52.8 52.8 0 0 1 179.9 146.8Q128.2 143 76.7 149.5A52.8 52.8 0 0 1 76.3 147.8Q128.1 140 180.2 145.1Z" fill="#a1dd79" stroke="#fff" stroke-width="0.25" stroke-opacity="0.45"/>
<path d="M179.4 124.8A52.8 52.8 0 0 1 179.7 126.3Q132.7 146.8 87.2 170.5A52.8 52.8 0 0 1 86 168.9Q131.4 144.1 179.4 124.8Z" fill="#7bed6d" stroke="#fff" stroke-width="0.25" stroke-opacity="0.45"/>
<path d="M176.5 116.1A52.8 52.8 0 0 1 177.1 117.5Q131.6 128.1 106 89A52.8 52.8 0 0 1 107.1 88.5Q132.7 125.3 176.5 116.1Z" fill="#d6ee46" stroke="#fff" stroke-width="0.25" stroke-opacity="0.45"/>
<path d="M111.7 86.8A52.8 52.8 0 0 1 113.1 86.4Q134.2 130.8 178.6 152.1A52.8 52.8 0 0 1 178.2 153.3Q132.1 132.9 111.7 86.8Z" fill="#50e2f2" stroke="#fff" stroke-width="0.25" stroke-opacity="0.45"/>
<path d="M180.6 132.4A52.8 52.8 0 0 1 180.7 133.9Q132.4 145.6 94.5 177.8A52.8 52.8 0 0 1 92.9 176.4Q131 143 180.6 132.4Z" fill="#63d555" stroke="#fff" stroke-width="0.25" stroke-opacity="0.45"/>
<path d="M180.7 140.2A52.8 52.8 0 0 1 180.6 141.8Q133.2 146.7 103 183.5A52.8 52.8 0 0 1 101.2 182.5Q131.8 144.1 180.7 140.2Z" fill="#7beb5b" stroke="#fff" stroke-width="0.25" stroke-opacity="0.45"/>
<path d="M180.4 143.4A52.8 52.8 0 0 1 180.2 145.1Q128.2 143.9 76.3 147.8A52.8 52.8 0 0 1 76 146.2Q128.1 140.9 180.4 143.4Z" fill="#8dc965" stroke="#fff" stroke-width="0.25" stroke-opacity="0.45"/>
<path d="M163.1 176.5A52.8 52.8 0 0 1 161.9 177.4Q122.3 145.2 78.4 118.9A52.8 52.8 0 0 1 78.7 118.1Q124 142.7 163.1 176.5Z" fill="#001bdd" stroke="#fff" stroke-width="0.25" stroke-opacity="0.45"/>
<path d="M139.7 85.5A52.8 52.8 0 0 1 141.3 85.9Q129.5 137.3 120.3 189.2A52.8 52.8 0 0 1 118.7 189Q126.5 136.7 139.7 85.5Z" fill="#d9c929" stroke="#fff" stroke-width="0.25" stroke-opacity="0.45"/>
<path d="M160.7 178.4A52.8 52.8 0 0 1 159.5 179.4Q133.7 132.9 98.5 93.2A52.8 52.8 0 0 1 100 92.2Q136.2 131.2 160.7 178.4Z" fill="#c044f8" stroke="#fff" stroke-width="0.25" stroke-opacity="0.45"/>
<path d="M155.7 181.9A52.8 52.8 0 0 1 154.4 182.7Q123.5 140.2 92.7 97.8A52.8 52.8 0 0 1 94.1 96.6Q126 138.5 155.7 181.9Z" fill="#a62ade" stroke="#fff" stroke-width="0.25" stroke-opacity="0.45"/>
<path d="M172.9 109.3A52.8 52.8 0 0 1 173.7 110.6Q138 140.6 146.9 186.3A52.8 52.8 0 0 1 144.6 187.1Q135.2 139.6 172.9 109.3Z" fill="#f5492d" stroke="#fff" stroke-width="0.25" stroke-opacity="0.45"/>
<path d="M179.7 126.3A52.8 52.8 0 0 1 180 127.8Q131 143.2 88.6 172.1A52.8 52.8 0 0 1 87.2 170.5Q129.7 140.5 179.7 126.3Z" fill="#78ea6a" stroke="#fff" stroke-width="0.25" stroke-opacity="0.45"/>
<path d="M85.5 105.6A52.8 52.8 0 0 1 86.4 104.4Q117.2 133.7 75.3 140.7A52.8 52.8 0 0 1 75.3 139.8Q114.3 132.8 85.5 105.6Z" fill="#59c5ff" stroke="#fff" stroke-width="0.25" stroke-opacity="0.45"/>
<path d="M180.6 141.8A52.8 52.8 0 0 1 180.4 143.4Q132.9 146 104.9 184.5A52.8 52.8 0 0 1 103 183.5Q131.4 143.4 180.6 141.8Z" fill="#65d545" stroke="#fff" stroke-width="0.25" stroke-opacity="0.45"/>
<path d="M178.1 120.4A52.8 52.8 0 0 1 178.6 121.9Q131.9 127.5 102.7 90.7A52.8 52.8 0 0 1 103.8 90.1Q133 124.8 178.1 120.4Z" fill="#e6fe56" stroke="#fff" stroke-width="0.25" stroke-opacity="0.45"/>
<path d="M83 109.4A52.8 52.8 0 0 1 83.8 108.1Q115.4 133.4 75.2 137.9A52.8 52.8 0 0 1 75.2 137Q112.5 132.6 83 109.4Z" fill="#52befe" stroke="#fff" stroke-width="0.25" stroke-opacity="0.45"/>
<path d="M136.6 84.9A52.8 52.8 0 0 1 138.2 85.2Q127.7 136.9 117.2 188.7A52.8 52.8 0 0 1 115.6 188.3Q124.8 136.3 136.6 84.9Z" fill="#e2d232" stroke="#fff" stroke-width="0.25" stroke-opacity="0.45"/>
<path d="M150.5 89.2A52.8 52.8 0 0 1 152 90Q123.4 132.9 84.2 166.5A52.8 52.8 0 0 1 82.9 164.5Q121.2 130.9 150.5 89.2Z" fill="#5ae0b4" stroke="#fff" stroke-width="0.25" stroke-opacity="0.45"/>
<path d="M158.5 93.9A52.8 52.8 0 0 1 159.7 94.8Q136.3 141.6 108.9 186.2A52.8 52.8 0 0 1 108.2 186Q133.6 140.1 158.5 93.9Z" fill="#4127e7" stroke="#fff" stroke-width="0.25" stroke-opacity="0.45"/>
<path d="M180 127.8A52.8 52.8 0 0 1 180.2 129.3Q131.9 145.1 89.9 173.6A52.8 52.8 0 0 1 88.6 172.1Q130.6 142.4 180 127.8Z" fill="#71e363" stroke="#fff" stroke-width="0.25" stroke-opacity="0.45"/>
<path d="M170.3 168.6A52.8 52.8 0 0 1 169.4 169.8Q125.3 141.3 80.8 113.3A52.8 52.8 0 0 1 81.2 112.5Q126.9 138.8 170.3 168.6Z" fill="#1935f7" stroke="#fff" stroke-width="0.25" stroke-opacity="0.45"/>
<path d="M149 88.5A52.8 52.8 0 0 1 150.5 89.2Q124 133.4 82.9 164.5A52.8 52.8 0 0 1 81.7 162.4Q121.7 131.3 149 88.5Z" fill="#71f7cb" stroke="#fff" stroke-width="0.25" stroke-opacity="0.45"/>
<path d="M171.2 106.7A52.8 52.8 0 0 1 172.1 108Q138.1 140.8 142.3 187.8A52.8 52.8 0 0 1 140 188.4Q135.3 139.7 171.2 106.7Z" fill="#f04428" stroke="#fff" stroke-width="0.25" stroke-opacity="0.45"/>
<path d="M161.9 177.4A52.8 52.8 0 0 1 160.7 178.4Q129.8 135.7 100 92.2A52.8 52.8 0 0 1 101.6 91.3Q132.3 134 161.9 177.4Z" fill="#c84cff" stroke="#fff" stroke-width="0.25" stroke-opacity="0.45"/>
<path d="M115.9 85.6A52.8 52.8 0 0 1 117.3 85.3Q137.6 127.5 179.5 148.6A52.8 52.8 0 0 1 179.2 149.8Q135.5 129.6 115.9 85.6Z" fill="#5ceefe" stroke="#fff" stroke-width="0.25" stroke-opacity="0.45"/>
</g>
<g font-size="5.5" fill="#222" stroke="#222" stroke-width="0.1" text-anchor="middle"><text x="122.6" y="40.6">Expression</text><text x="121.8" y="52.8">CGE</text><text x="122.7" y="58.2">lncRNAs</text><text x="122.7" y="66.6">R</text><text x="122.7" y="79.6">S</text></g></g>
<use href="#circ" transform="translate(279.7 1)"/>
<circle cx="159.5" cy="46.9" r="0.6" fill="#333"/>
<circle cx="144.7" cy="43" r="0.6" fill="#5a5a8a"/>
<circle cx="157.1" cy="47" r="0.6" fill="#333"/>
<circle cx="167.1" cy="51.3" r="0.6" fill="#5a5a8a"/>
<circle cx="211" cy="90.9" r="0.6" fill="#333"/>
<circle cx="200.7" cy="78.1" r="0.6" fill="#333"/>
<circle cx="199.7" cy="76.3" r="0.6" fill="#5a5a8a"/>
<circle cx="220.9" cy="117.8" r="0.6" fill="#5a5a8a"/>
<circle cx="219.8" cy="116.2" r="0.6" fill="#5a5a8a"/>
<circle cx="220" cy="113.1" r="0.6" fill="#333"/>
<circle cx="220.8" cy="152" r="0.6" fill="#5a5a8a"/>
<circle cx="222.3" cy="150.3" r="0.6" fill="#333"/>
<circle cx="217.2" cy="171.6" r="0.6" fill="#333"/>
<circle cx="219.4" cy="159" r="0.6" fill="#333"/>
<circle cx="199.9" cy="199.3" r="0.6" fill="#333"/>
<circle cx="195.5" cy="202.4" r="0.6" fill="#333"/>
<circle cx="199.9" cy="197.9" r="0.6" fill="#5a5a8a"/>
<circle cx="170.8" cy="220.4" r="0.6" fill="#5a5a8a"/>
<circle cx="183.1" cy="212.7" r="0.6" fill="#333"/>
<circle cx="182.3" cy="214.7" r="0.6" fill="#333"/>
<circle cx="145.9" cy="230.6" r="0.6" fill="#333"/>
<circle cx="140.4" cy="230.7" r="0.6" fill="#5a5a8a"/>
<circle cx="136.5" cy="232.4" r="0.6" fill="#333"/>
<circle cx="135.6" cy="232.2" r="0.6" fill="#5a5a8a"/>
<circle cx="94.9" cy="225.9" r="0.6" fill="#333"/>
<circle cx="114.5" cy="229.9" r="0.6" fill="#333"/>
<circle cx="115" cy="231" r="0.6" fill="#333"/>
<circle cx="91.7" cy="223.4" r="0.6" fill="#333"/>
<circle cx="87.5" cy="222.8" r="0.6" fill="#333"/>
<circle cx="82.7" cy="221.3" r="0.6" fill="#333"/>
<circle cx="58.2" cy="199.8" r="0.6" fill="#5a5a8a"/>
<circle cx="48.4" cy="187.1" r="0.6" fill="#5a5a8a"/>
<circle cx="40.9" cy="173.3" r="0.6" fill="#333"/>
<circle cx="34.6" cy="144.8" r="0.6" fill="#333"/>
<circle cx="32.9" cy="140.3" r="0.6" fill="#333"/>
<circle cx="32.4" cy="136.7" r="0.6" fill="#333"/>
<circle cx="36.3" cy="109.3" r="0.6" fill="#5a5a8a"/>
<circle cx="40.7" cy="98.3" r="0.6" fill="#333"/>
<circle cx="38.9" cy="102.3" r="0.6" fill="#5a5a8a"/>
<circle cx="38.9" cy="106.7" r="0.6" fill="#333"/>
<circle cx="63.1" cy="68" r="0.6" fill="#333"/>
<circle cx="84" cy="53.4" r="0.6" fill="#333"/>
<circle cx="89.7" cy="50.4" r="0.6" fill="#333"/>
<path d="M129.8 49.8A87.2 87.2 0 0 1 131.1 49.9L131 53.6A83.5 83.5 0 0 0 129.7 53.5Z" fill="#9c1212"/>
<path d="M134.3 50A87.2 87.2 0 0 1 135.7 50.1L135.4 53.8A83.5 83.5 0 0 0 134 53.7Z" fill="#9c1212"/>
<path d="M145 51.5A87.2 87.2 0 0 1 146.4 51.8L145.6 55.4A83.5 83.5 0 0 0 144.3 55.1Z" fill="#c8402c"/>
<path d="M157.2 54.8A87.2 87.2 0 0 1 158.5 55.3L157.2 58.8A83.5 83.5 0 0 0 155.9 58.3Z" fill="#9c1212"/>
<path d="M171.5 61.4A87.2 87.2 0 0 1 172.7 62.1L170.8 65.3A83.5 83.5 0 0 0 169.7 64.7Z" fill="#eaa08a"/>
<path d="M174.7 63.3A87.2 87.2 0 0 1 175.8 64.1L173.8 67.2A83.5 83.5 0 0 0 172.7 66.5Z" fill="#eaa08a"/>
<path d="M213.9 121.8A87.2 87.2 0 0 1 214.1 123.1L210.4 123.7A83.5 83.5 0 0 0 210.2 122.4Z" fill="#9c1212"/>
<path d="M214.1 151A87.2 87.2 0 0 1 213.8 152.4L210.2 151.7A83.5 83.5 0 0 0 210.4 150.4Z" fill="#9c1212"/>
<path d="M207.4 173A87.2 87.2 0 0 1 206.9 174.2L203.5 172.6A83.5 83.5 0 0 0 204.1 171.4Z" fill="#c8402c"/>
<path d="M205.6 176.8A87.2 87.2 0 0 1 205 178L201.7 176.3A83.5 83.5 0 0 0 202.3 175.1Z" fill="#c8402c"/>
<path d="M191.6 196.6A87.2 87.2 0 0 1 190.7 197.6L188 195.1A83.5 83.5 0 0 0 188.9 194.1Z" fill="#c8402c"/>
<path d="M167 215A87.2 87.2 0 0 1 165.7 215.6L164.1 212.3A83.5 83.5 0 0 0 165.3 211.7Z" fill="#9c1212"/>
<path d="M153.9 220.3A87.2 87.2 0 0 1 152.5 220.7L151.5 217.1A83.5 83.5 0 0 0 152.8 216.7Z" fill="#9c1212"/>
<path d="M152.1 220.8A87.2 87.2 0 0 1 150.8 221.2L149.8 217.6A83.5 83.5 0 0 0 151.1 217.2Z" fill="#9c1212"/>
<path d="M137 223.7A87.2 87.2 0 0 1 135.7 223.9L135.4 220.2A83.5 83.5 0 0 0 136.7 220.1Z" fill="#eaa08a"/>
<path d="M104.6 221A87.2 87.2 0 0 1 103.3 220.6L104.4 217.1A83.5 83.5 0 0 0 105.6 217.4Z" fill="#9c1212"/>
<path d="M101.7 220.1A87.2 87.2 0 0 1 100.4 219.7L101.6 216.2A83.5 83.5 0 0 0 102.8 216.6Z" fill="#9c1212"/>
<path d="M71.1 203.1A87.2 87.2 0 0 1 70 202.2L72.5 199.4A83.5 83.5 0 0 0 73.5 200.3Z" fill="#eaa08a"/>
<path d="M54.9 184.6A87.2 87.2 0 0 1 54.2 183.4L57.3 181.4A83.5 83.5 0 0 0 58 182.5Z" fill="#c8402c"/>
<path d="M48.6 173.1A87.2 87.2 0 0 1 48.1 171.8L51.5 170.4A83.5 83.5 0 0 0 52 171.6Z" fill="#eaa08a"/>
<path d="M42.2 121.2A87.2 87.2 0 0 1 42.5 119.8L46.1 120.6A83.5 83.5 0 0 0 45.9 121.9Z" fill="#9c1212"/>
<path d="M90.3 58.4A87.2 87.2 0 0 1 91.5 57.8L93 61.2A83.5 83.5 0 0 0 91.9 61.7Z" fill="#9c1212"/>
<path d="M108.9 51.9A87.2 87.2 0 0 1 110.2 51.6L111 55.2A83.5 83.5 0 0 0 109.7 55.5Z" fill="#9c1212"/>
<path d="M111.3 51.4A87.2 87.2 0 0 1 112.6 51.2L113.3 54.8A83.5 83.5 0 0 0 112 55Z" fill="#9c1212"/>
<line x1="152.4" y1="69.5" x2="153.6" y2="66.1" stroke="#6458a8" stroke-width="0.8"/>
<line x1="170.2" y1="80.4" x2="172.4" y2="77.5" stroke="#6458a8" stroke-width="0.8"/>
<line x1="169.7" y1="98.5" x2="171.9" y2="96.5" stroke="#3c8a4c" stroke-width="0.7"/>
<line x1="184.3" y1="95.7" x2="187.2" y2="93.5" stroke="#6458a8" stroke-width="0.8"/>
<line x1="190.4" y1="101.2" x2="193.5" y2="99.4" stroke="#6458a8" stroke-width="0.8"/>
<line x1="178.5" y1="106.1" x2="181.1" y2="104.5" stroke="#3c8a4c" stroke-width="0.7"/>
<line x1="191.9" y1="105.8" x2="195.1" y2="104.2" stroke="#6458a8" stroke-width="0.8"/>
<line x1="197.6" y1="131.2" x2="201.1" y2="130.9" stroke="#6458a8" stroke-width="0.8"/>
<line x1="185.7" y1="128.1" x2="188.7" y2="127.6" stroke="#3c8a4c" stroke-width="0.7"/>
<line x1="185.2" y1="126" x2="188.1" y2="125.4" stroke="#3c8a4c" stroke-width="0.7"/>
<line x1="184.1" y1="128.7" x2="187.1" y2="128.3" stroke="#3c8a4c" stroke-width="0.7"/>
<line x1="186.5" y1="142.1" x2="189.4" y2="142.4" stroke="#3c8a4c" stroke-width="0.7"/>
<line x1="186.7" y1="138.2" x2="189.7" y2="138.3" stroke="#3c8a4c" stroke-width="0.7"/>
<line x1="198" y1="149.2" x2="201.6" y2="149.8" stroke="#6458a8" stroke-width="0.8"/>
<line x1="198.1" y1="149.6" x2="201.7" y2="150.2" stroke="#6458a8" stroke-width="0.8"/>
<line x1="192.3" y1="167.5" x2="195.5" y2="169" stroke="#6458a8" stroke-width="0.8"/>
<line x1="176.2" y1="167.2" x2="178.7" y2="168.8" stroke="#3c8a4c" stroke-width="0.7"/>
<line x1="177.9" y1="187.8" x2="180.4" y2="190.3" stroke="#6458a8" stroke-width="0.8"/>
<line x1="174.2" y1="190.6" x2="176.6" y2="193.4" stroke="#6458a8" stroke-width="0.8"/>
<line x1="167.8" y1="177.9" x2="169.9" y2="180.1" stroke="#3c8a4c" stroke-width="0.7"/>
<line x1="155.7" y1="187.7" x2="157.2" y2="190.4" stroke="#3c8a4c" stroke-width="0.7"/>
<line x1="153" y1="188.8" x2="154.3" y2="191.5" stroke="#3c8a4c" stroke-width="0.7"/>
<line x1="152.3" y1="203.7" x2="153.5" y2="207.1" stroke="#6458a8" stroke-width="0.8"/>
<line x1="140.4" y1="193.3" x2="141.1" y2="196.2" stroke="#3c8a4c" stroke-width="0.7"/>
<line x1="122.1" y1="207.1" x2="121.8" y2="210.7" stroke="#6458a8" stroke-width="0.8"/>
<line x1="136.5" y1="207.2" x2="136.9" y2="210.8" stroke="#6458a8" stroke-width="0.8"/>
<line x1="110.5" y1="191.1" x2="109.6" y2="193.9" stroke="#3c8a4c" stroke-width="0.7"/>
<line x1="113.9" y1="194.6" x2="113.2" y2="197.5" stroke="#3c8a4c" stroke-width="0.7"/>
<line x1="95.2" y1="200.3" x2="93.6" y2="203.5" stroke="#6458a8" stroke-width="0.8"/>
<line x1="96.8" y1="187.1" x2="95.3" y2="189.7" stroke="#3c8a4c" stroke-width="0.7"/>
<line x1="98.7" y1="186.4" x2="97.2" y2="189" stroke="#3c8a4c" stroke-width="0.7"/>
<line x1="86.1" y1="175.1" x2="83.9" y2="177.1" stroke="#3c8a4c" stroke-width="0.7"/>
<line x1="86.2" y1="177.5" x2="84" y2="179.6" stroke="#3c8a4c" stroke-width="0.7"/>
<line x1="68.6" y1="176.7" x2="65.6" y2="178.6" stroke="#6458a8" stroke-width="0.8"/>
<line x1="81.6" y1="170.2" x2="79.1" y2="171.9" stroke="#3c8a4c" stroke-width="0.7"/>
<line x1="65.4" y1="168.6" x2="62.2" y2="170.2" stroke="#6458a8" stroke-width="0.8"/>
<line x1="72.3" y1="153.6" x2="69.4" y2="154.5" stroke="#3c8a4c" stroke-width="0.7"/>
<line x1="71.4" y1="148" x2="68.5" y2="148.5" stroke="#3c8a4c" stroke-width="0.7"/>
<line x1="73.4" y1="153.6" x2="70.5" y2="154.5" stroke="#3c8a4c" stroke-width="0.7"/>
<line x1="56.2" y1="139.2" x2="52.6" y2="139.3" stroke="#6458a8" stroke-width="0.8"/>
<line x1="71.4" y1="135.3" x2="68.4" y2="135.3" stroke="#3c8a4c" stroke-width="0.7"/>
<line x1="69.2" y1="139.2" x2="66.2" y2="139.3" stroke="#3c8a4c" stroke-width="0.7"/>
<line x1="68.7" y1="135.2" x2="65.7" y2="135.1" stroke="#3c8a4c" stroke-width="0.7"/>
<line x1="58.2" y1="119.5" x2="54.7" y2="118.6" stroke="#6458a8" stroke-width="0.8"/>
<line x1="57.6" y1="121.4" x2="54.1" y2="120.6" stroke="#6458a8" stroke-width="0.8"/>
<line x1="69.6" y1="126.4" x2="66.7" y2="125.9" stroke="#3c8a4c" stroke-width="0.7"/>
<line x1="61.3" y1="112.4" x2="57.9" y2="111.2" stroke="#6458a8" stroke-width="0.8"/>
<line x1="67.3" y1="98.9" x2="64.3" y2="96.9" stroke="#6458a8" stroke-width="0.8"/>
<line x1="78.3" y1="106.2" x2="75.8" y2="104.6" stroke="#3c8a4c" stroke-width="0.7"/>
<line x1="77.6" y1="107.1" x2="75" y2="105.5" stroke="#3c8a4c" stroke-width="0.7"/>
<line x1="82.5" y1="101.6" x2="80.1" y2="99.7" stroke="#3c8a4c" stroke-width="0.7"/>
<line x1="89.1" y1="92.8" x2="87.1" y2="90.6" stroke="#3c8a4c" stroke-width="0.7"/>
<line x1="87.8" y1="93.5" x2="85.7" y2="91.3" stroke="#3c8a4c" stroke-width="0.7"/>
<line x1="96.9" y1="89.7" x2="95.3" y2="87.2" stroke="#3c8a4c" stroke-width="0.7"/>
<line x1="95.5" y1="89.2" x2="93.8" y2="86.7" stroke="#3c8a4c" stroke-width="0.7"/>
<line x1="98" y1="74" x2="96.4" y2="70.7" stroke="#6458a8" stroke-width="0.8"/>
<line x1="107.8" y1="69.8" x2="106.7" y2="66.3" stroke="#6458a8" stroke-width="0.8"/>
<line x1="110.4" y1="80.4" x2="109.5" y2="77.6" stroke="#3c8a4c" stroke-width="0.7"/>
<line x1="109.4" y1="80.5" x2="108.4" y2="77.6" stroke="#3c8a4c" stroke-width="0.7"/>
<line x1="116.9" y1="66.1" x2="116.3" y2="62.5" stroke="#6458a8" stroke-width="0.8"/>
<line x1="117.7" y1="66.6" x2="117.2" y2="63" stroke="#6458a8" stroke-width="0.8"/>
<circle cx="417.6" cy="43.8" r="0.6" fill="#333"/>
<circle cx="421.9" cy="43.3" r="0.6" fill="#333"/>
<circle cx="431.1" cy="46.4" r="0.6" fill="#333"/>
<circle cx="454.4" cy="55.3" r="0.6" fill="#5a5a8a"/>
<circle cx="468.3" cy="65.7" r="0.6" fill="#5a5a8a"/>
<circle cx="471.2" cy="68.8" r="0.6" fill="#333"/>
<circle cx="475.6" cy="71.4" r="0.6" fill="#333"/>
<circle cx="503.4" cy="135.4" r="0.6" fill="#333"/>
<circle cx="487.3" cy="189.3" r="0.6" fill="#333"/>
<circle cx="494.8" cy="177.9" r="0.6" fill="#333"/>
<circle cx="493.8" cy="177.3" r="0.6" fill="#5a5a8a"/>
<circle cx="473.6" cy="205.8" r="0.6" fill="#333"/>
<circle cx="476.4" cy="203.6" r="0.6" fill="#5a5a8a"/>
<circle cx="483" cy="196.5" r="0.6" fill="#5a5a8a"/>
<circle cx="448.7" cy="223" r="0.6" fill="#333"/>
<circle cx="460.4" cy="216.2" r="0.6" fill="#333"/>
<circle cx="444" cy="226.2" r="0.6" fill="#333"/>
<circle cx="381.4" cy="227.8" r="0.6" fill="#5a5a8a"/>
<circle cx="347.1" cy="211.3" r="0.6" fill="#5a5a8a"/>
<circle cx="329.8" cy="192.2" r="0.6" fill="#333"/>
<circle cx="330.2" cy="191.8" r="0.6" fill="#333"/>
<circle cx="320.7" cy="178" r="0.6" fill="#333"/>
<circle cx="319.5" cy="170" r="0.6" fill="#333"/>
<circle cx="323.1" cy="178.9" r="0.6" fill="#333"/>
<circle cx="313" cy="126.8" r="0.6" fill="#5a5a8a"/>
<circle cx="313.4" cy="129.5" r="0.6" fill="#5a5a8a"/>
<circle cx="324.2" cy="93.5" r="0.6" fill="#5a5a8a"/>
<circle cx="319.1" cy="102.8" r="0.6" fill="#333"/>
<circle cx="337.1" cy="75" r="0.6" fill="#333"/>
<circle cx="341.9" cy="68.5" r="0.6" fill="#333"/>
<circle cx="342.1" cy="70.5" r="0.6" fill="#333"/>
<circle cx="353.7" cy="59.3" r="0.6" fill="#333"/>
<circle cx="354.9" cy="58.7" r="0.6" fill="#333"/>
<circle cx="363.1" cy="55.8" r="0.6" fill="#5a5a8a"/>
<circle cx="367.9" cy="52.7" r="0.6" fill="#5a5a8a"/>
<circle cx="377.4" cy="47.2" r="0.6" fill="#333"/>
<circle cx="392.8" cy="44.7" r="0.6" fill="#333"/>
<circle cx="394.1" cy="43.7" r="0.6" fill="#333"/>
<path d="M411.6 50.9A87.2 87.2 0 0 1 412.9 51L412.7 54.7A83.5 83.5 0 0 0 411.4 54.6Z" fill="#9c1212"/>
<path d="M428.1 53.2A87.2 87.2 0 0 1 429.5 53.6L428.5 57.1A83.5 83.5 0 0 0 427.3 56.8Z" fill="#c8402c"/>
<path d="M463.2 70.8A87.2 87.2 0 0 1 464.3 71.6L461.9 74.5A83.5 83.5 0 0 0 460.9 73.6Z" fill="#eaa08a"/>
<path d="M489.4 107.5A87.2 87.2 0 0 1 489.9 108.8L486.4 110.1A83.5 83.5 0 0 0 485.9 108.8Z" fill="#c8402c"/>
<path d="M492.6 158A87.2 87.2 0 0 1 492.3 159.3L488.7 158.4A83.5 83.5 0 0 0 489 157.1Z" fill="#9c1212"/>
<path d="M490.8 164.3A87.2 87.2 0 0 1 490.4 165.6L486.9 164.4A83.5 83.5 0 0 0 487.3 163.2Z" fill="#9c1212"/>
<path d="M480.7 185.7A87.2 87.2 0 0 1 479.9 186.8L476.9 184.8A83.5 83.5 0 0 0 477.6 183.7Z" fill="#9c1212"/>
<path d="M464.3 204.4A87.2 87.2 0 0 1 463.2 205.2L460.9 202.4A83.5 83.5 0 0 0 461.9 201.5Z" fill="#eaa08a"/>
<path d="M434.7 220.9A87.2 87.2 0 0 1 433.4 221.3L432.3 217.8A83.5 83.5 0 0 0 433.6 217.4Z" fill="#9c1212"/>
<path d="M400.8 224.9A87.2 87.2 0 0 1 399.4 224.8L399.8 221.1A83.5 83.5 0 0 0 401.1 221.2Z" fill="#c8402c"/>
<path d="M378.5 220.2A87.2 87.2 0 0 1 377.2 219.7L378.5 216.2A83.5 83.5 0 0 0 379.8 216.7Z" fill="#eaa08a"/>
<path d="M341.3 194.6A87.2 87.2 0 0 1 340.5 193.5L343.3 191.2A83.5 83.5 0 0 0 344.2 192.2Z" fill="#c8402c"/>
<path d="M320.5 137.9A87.2 87.2 0 0 1 320.5 136.6L324.2 136.6A83.5 83.5 0 0 0 324.2 137.9Z" fill="#9c1212"/>
<path d="M336.8 87.3A87.2 87.2 0 0 1 337.6 86.2L340.5 88.4A83.5 83.5 0 0 0 339.8 89.5Z" fill="#9c1212"/>
<path d="M351.1 71.6A87.2 87.2 0 0 1 352.2 70.8L354.5 73.6A83.5 83.5 0 0 0 353.5 74.5Z" fill="#eaa08a"/>
<path d="M384.5 54A87.2 87.2 0 0 1 385.8 53.6L386.7 57.2A83.5 83.5 0 0 0 385.5 57.5Z" fill="#c8402c"/>
<path d="M390.4 52.5A87.2 87.2 0 0 1 391.7 52.3L392.4 55.9A83.5 83.5 0 0 0 391.1 56.2Z" fill="#9c1212"/>
<line x1="433.8" y1="71.3" x2="435.1" y2="67.9" stroke="#6458a8" stroke-width="0.8"/>
<line x1="419.9" y1="82.8" x2="420.6" y2="79.9" stroke="#3c8a4c" stroke-width="0.7"/>
<line x1="423.6" y1="81" x2="424.4" y2="78.1" stroke="#3c8a4c" stroke-width="0.7"/>
<line x1="425.5" y1="81.5" x2="426.4" y2="78.7" stroke="#3c8a4c" stroke-width="0.7"/>
<line x1="442.8" y1="75.1" x2="444.6" y2="71.9" stroke="#6458a8" stroke-width="0.8"/>
<line x1="438.5" y1="88.1" x2="440.1" y2="85.5" stroke="#3c8a4c" stroke-width="0.7"/>
<line x1="432.7" y1="86.4" x2="434" y2="83.7" stroke="#3c8a4c" stroke-width="0.7"/>
<line x1="438.5" y1="88.2" x2="440" y2="85.6" stroke="#3c8a4c" stroke-width="0.7"/>
<line x1="455.5" y1="86.7" x2="457.9" y2="84.1" stroke="#6458a8" stroke-width="0.8"/>
<line x1="446" y1="96.2" x2="448.1" y2="94" stroke="#3c8a4c" stroke-width="0.7"/>
<line x1="444.1" y1="94.5" x2="446.1" y2="92.2" stroke="#3c8a4c" stroke-width="0.7"/>
<line x1="445.1" y1="92.9" x2="447" y2="90.6" stroke="#3c8a4c" stroke-width="0.7"/>
<line x1="463.8" y1="95.8" x2="466.7" y2="93.6" stroke="#6458a8" stroke-width="0.8"/>
<line x1="453.3" y1="104.5" x2="455.7" y2="102.7" stroke="#3c8a4c" stroke-width="0.7"/>
<line x1="455.1" y1="104.9" x2="457.6" y2="103.2" stroke="#3c8a4c" stroke-width="0.7"/>
<line x1="453.5" y1="101.6" x2="455.9" y2="99.8" stroke="#3c8a4c" stroke-width="0.7"/>
<line x1="474.5" y1="110.3" x2="477.9" y2="108.9" stroke="#6458a8" stroke-width="0.8"/>
<line x1="479.9" y1="139.3" x2="483.5" y2="139.3" stroke="#6458a8" stroke-width="0.8"/>
<line x1="465.7" y1="138.5" x2="468.7" y2="138.5" stroke="#3c8a4c" stroke-width="0.7"/>
<line x1="466.9" y1="137.3" x2="469.9" y2="137.2" stroke="#3c8a4c" stroke-width="0.7"/>
<line x1="465.7" y1="138.7" x2="468.7" y2="138.8" stroke="#3c8a4c" stroke-width="0.7"/>
<line x1="478.7" y1="151" x2="482.3" y2="151.7" stroke="#6458a8" stroke-width="0.8"/>
<line x1="465.7" y1="148.1" x2="468.6" y2="148.6" stroke="#3c8a4c" stroke-width="0.7"/>
<line x1="462.1" y1="159.7" x2="464.9" y2="160.8" stroke="#3c8a4c" stroke-width="0.7"/>
<line x1="459.4" y1="186.7" x2="462" y2="189.2" stroke="#6458a8" stroke-width="0.8"/>
<line x1="439.3" y1="187.5" x2="440.9" y2="190" stroke="#3c8a4c" stroke-width="0.7"/>
<line x1="439.2" y1="186.7" x2="440.8" y2="189.2" stroke="#3c8a4c" stroke-width="0.7"/>
<line x1="426.1" y1="205.8" x2="427" y2="209.2" stroke="#6458a8" stroke-width="0.8"/>
<line x1="427.3" y1="192.7" x2="428.3" y2="195.6" stroke="#3c8a4c" stroke-width="0.7"/>
<line x1="426.5" y1="191.4" x2="427.5" y2="194.3" stroke="#3c8a4c" stroke-width="0.7"/>
<line x1="420.9" y1="193.8" x2="421.6" y2="196.7" stroke="#3c8a4c" stroke-width="0.7"/>
<line x1="413.6" y1="209.9" x2="413.9" y2="213.5" stroke="#6458a8" stroke-width="0.8"/>
<line x1="404.1" y1="209.4" x2="404" y2="213" stroke="#6458a8" stroke-width="0.8"/>
<line x1="414.8" y1="196" x2="415.2" y2="199" stroke="#3c8a4c" stroke-width="0.7"/>
<line x1="386.3" y1="205.5" x2="385.2" y2="209" stroke="#6458a8" stroke-width="0.8"/>
<line x1="391.3" y1="207.8" x2="390.5" y2="211.3" stroke="#6458a8" stroke-width="0.8"/>
<line x1="394.7" y1="194.2" x2="394.1" y2="197.1" stroke="#3c8a4c" stroke-width="0.7"/>
<line x1="395" y1="194.3" x2="394.3" y2="197.2" stroke="#3c8a4c" stroke-width="0.7"/>
<line x1="375.7" y1="187.6" x2="374.1" y2="190.1" stroke="#3c8a4c" stroke-width="0.7"/>
<line x1="368.5" y1="178.9" x2="366.4" y2="181.1" stroke="#3c8a4c" stroke-width="0.7"/>
<line x1="364.2" y1="178.1" x2="362" y2="180.1" stroke="#3c8a4c" stroke-width="0.7"/>
<line x1="345.8" y1="175.6" x2="342.7" y2="177.5" stroke="#6458a8" stroke-width="0.8"/>
<line x1="359.1" y1="168.6" x2="356.5" y2="170.2" stroke="#3c8a4c" stroke-width="0.7"/>
<line x1="340.2" y1="155.5" x2="336.7" y2="156.4" stroke="#6458a8" stroke-width="0.8"/>
<line x1="340.2" y1="157.3" x2="336.8" y2="158.3" stroke="#6458a8" stroke-width="0.8"/>
<line x1="348.8" y1="146.2" x2="345.8" y2="146.6" stroke="#3c8a4c" stroke-width="0.7"/>
<line x1="350.4" y1="147.6" x2="347.4" y2="148.1" stroke="#3c8a4c" stroke-width="0.7"/>
<line x1="338.7" y1="120" x2="335.2" y2="119.1" stroke="#6458a8" stroke-width="0.8"/>
<line x1="352.1" y1="127.9" x2="349.1" y2="127.3" stroke="#3c8a4c" stroke-width="0.7"/>
<line x1="351" y1="127.4" x2="348" y2="126.9" stroke="#3c8a4c" stroke-width="0.7"/>
<line x1="351.8" y1="124.9" x2="348.9" y2="124.3" stroke="#3c8a4c" stroke-width="0.7"/>
<line x1="343.2" y1="108.6" x2="339.9" y2="107.1" stroke="#6458a8" stroke-width="0.8"/>
<line x1="357.1" y1="112.6" x2="354.5" y2="111.3" stroke="#3c8a4c" stroke-width="0.7"/>
<line x1="357" y1="113" x2="354.3" y2="111.6" stroke="#3c8a4c" stroke-width="0.7"/>
<line x1="352.6" y1="117.5" x2="349.8" y2="116.4" stroke="#3c8a4c" stroke-width="0.7"/>
<line x1="346.7" y1="98.7" x2="343.6" y2="96.8" stroke="#6458a8" stroke-width="0.8"/>
<line x1="357.4" y1="106.4" x2="354.9" y2="104.8" stroke="#3c8a4c" stroke-width="0.7"/>
<line x1="359.3" y1="108.4" x2="356.7" y2="106.9" stroke="#3c8a4c" stroke-width="0.7"/>
<line x1="359.8" y1="106.1" x2="357.3" y2="104.4" stroke="#3c8a4c" stroke-width="0.7"/>
<line x1="358.9" y1="88" x2="356.4" y2="85.4" stroke="#6458a8" stroke-width="0.8"/>
<line x1="383.7" y1="69.6" x2="382.5" y2="66.2" stroke="#6458a8" stroke-width="0.8"/>
<line x1="385.7" y1="71.2" x2="384.6" y2="67.8" stroke="#6458a8" stroke-width="0.8"/>
<line x1="389.3" y1="82.9" x2="388.4" y2="80" stroke="#3c8a4c" stroke-width="0.7"/>
<line x1="389.1" y1="83.9" x2="388.2" y2="81" stroke="#3c8a4c" stroke-width="0.7"/>
<line x1="399.1" y1="79.2" x2="398.7" y2="76.2" stroke="#3c8a4c" stroke-width="0.7"/>
<line x1="398.1" y1="79.5" x2="397.6" y2="76.5" stroke="#3c8a4c" stroke-width="0.7"/>
<line x1="32.8" y1="369.6" x2="213.7" y2="369.6" stroke="#f4aaaa" stroke-width="0.6"/>
<circle cx="38.6" cy="385.4" r="1.5" fill="#e93b2e" fill-opacity="0.6"/>
<circle cx="44.7" cy="378.4" r="2.3" fill="#d63840" fill-opacity="0.6"/>
<circle cx="44.7" cy="380.2" r="1.8" fill="#db393c" fill-opacity="0.6"/>
<circle cx="50.9" cy="378.4" r="2.1" fill="#d63840" fill-opacity="0.6"/>
<circle cx="50.9" cy="380.2" r="2.2" fill="#db393c" fill-opacity="0.6"/>
<circle cx="50.9" cy="386.3" r="1.4" fill="#eb3b2c" fill-opacity="0.6"/>
<circle cx="63.1" cy="381.9" r="1.9" fill="#e03a37" fill-opacity="0.6"/>
<circle cx="75.4" cy="382.8" r="1.6" fill="#e23a35" fill-opacity="0.6"/>
<circle cx="87.6" cy="379.3" r="2" fill="#d9393e" fill-opacity="0.6"/>
<circle cx="87.6" cy="380.2" r="1.8" fill="#db393c" fill-opacity="0.6"/>
<circle cx="87.6" cy="386.3" r="1.6" fill="#eb3b2c" fill-opacity="0.8"/>
<circle cx="106" cy="383.7" r="1.8" fill="#e43a33" fill-opacity="0.6"/>
<circle cx="112.1" cy="374" r="2" fill="#cb374c" fill-opacity="0.6"/>
<circle cx="112.1" cy="386.3" r="1.6" fill="#eb3b2c" fill-opacity="0.7"/>
<circle cx="118.3" cy="382.8" r="1.8" fill="#e23a35" fill-opacity="0.6"/>
<circle cx="118.3" cy="384.6" r="1.5" fill="#e73b30" fill-opacity="0.6"/>
<circle cx="118.3" cy="386.3" r="1.4" fill="#eb3b2c" fill-opacity="0.6"/>
<circle cx="124.4" cy="384.6" r="1.6" fill="#e73b30" fill-opacity="0.6"/>
<circle cx="130.5" cy="380.2" r="2.1" fill="#db393c" fill-opacity="0.6"/>
<circle cx="136.7" cy="378.4" r="1.8" fill="#d63840" fill-opacity="0.6"/>
<circle cx="148.9" cy="384.6" r="3" fill="#e73b30" fill-opacity="0.6"/>
<circle cx="148.9" cy="386.3" r="1.6" fill="#eb3b2c" fill-opacity="0.6"/>
<circle cx="155" cy="381" r="2.1" fill="#dd3939" fill-opacity="0.6"/>
<circle cx="155" cy="386.3" r="1.4" fill="#eb3b2c" fill-opacity="0.6"/>
<circle cx="167.3" cy="378.4" r="1.8" fill="#d63840" fill-opacity="0.6"/>
<circle cx="197.9" cy="386.3" r="1.4" fill="#eb3b2c" fill-opacity="0.6"/>
<circle cx="204.1" cy="384.6" r="1.8" fill="#e73b30" fill-opacity="0.7"/>
<circle cx="38.6" cy="299.2" r="1.6" fill="#2a44ea"/>
<circle cx="69.2" cy="299.2" r="1.2" fill="#5a80f0"/>
<circle cx="81.5" cy="299.2" r="1.2" fill="#5a80f0"/>
<circle cx="87.6" cy="299.2" r="1.2" fill="#5a80f0"/>
<circle cx="93.8" cy="299.2" r="1.2" fill="#5a80f0"/>
<circle cx="99.9" cy="299.2" r="1.2" fill="#5a80f0"/>
<circle cx="106" cy="299.2" r="1.3" fill="#3a5cee"/>
<circle cx="118.3" cy="299.2" r="1.3" fill="#3a5cee"/>
<circle cx="161.2" cy="299.2" r="1.2" fill="#5a80f0"/>
<circle cx="197.9" cy="299.2" r="1.2" fill="#5a80f0"/>
<circle cx="210.2" cy="299.2" r="1.2" fill="#4a6cee"/>
<path d="M32.8 290.2V387.2H212.2" fill="none" stroke="#3a3a3a" stroke-width="0.9"/>
<line x1="31.2" y1="387.2" x2="32.8" y2="387.2" stroke="#3a3a3a" stroke-width="0.7"/>
<text x="31" y="387.2" font-size="5.6" fill="#1a1a1a" stroke="#1a1a1a" stroke-width="0.12" text-anchor="end" dominant-baseline="central">0</text>
<line x1="31.2" y1="369.6" x2="32.8" y2="369.6" stroke="#3a3a3a" stroke-width="0.7"/>
<text x="31" y="369.6" font-size="5.6" fill="#1a1a1a" stroke="#1a1a1a" stroke-width="0.12" text-anchor="end" dominant-baseline="central">20</text>
<line x1="31.2" y1="352" x2="32.8" y2="352" stroke="#3a3a3a" stroke-width="0.7"/>
<text x="31" y="352" font-size="5.6" fill="#1a1a1a" stroke="#1a1a1a" stroke-width="0.12" text-anchor="end" dominant-baseline="central">40</text>
<line x1="31.2" y1="334.4" x2="32.8" y2="334.4" stroke="#3a3a3a" stroke-width="0.7"/>
<text x="31" y="334.4" font-size="5.6" fill="#1a1a1a" stroke="#1a1a1a" stroke-width="0.12" text-anchor="end" dominant-baseline="central">60</text>
<line x1="31.2" y1="316.8" x2="32.8" y2="316.8" stroke="#3a3a3a" stroke-width="0.7"/>
<text x="31" y="316.8" font-size="5.6" fill="#1a1a1a" stroke="#1a1a1a" stroke-width="0.12" text-anchor="end" dominant-baseline="central">80</text>
<line x1="31.2" y1="299.2" x2="32.8" y2="299.2" stroke="#3a3a3a" stroke-width="0.7"/>
<text x="31" y="299.2" font-size="5.6" fill="#1a1a1a" stroke="#1a1a1a" stroke-width="0.12" text-anchor="end" dominant-baseline="central">100</text>
<line x1="38.6" y1="387.2" x2="38.6" y2="389.4" stroke="#3a3a3a" stroke-width="0.7"/>
<text transform="translate(38.6 393.8) scale(0.8 1)" font-size="5.8" fill="#1a1a1a" stroke="#1a1a1a" stroke-width="0.12" text-anchor="middle" dominant-baseline="central">1</text>
<line x1="44.7" y1="387.2" x2="44.7" y2="389.4" stroke="#3a3a3a" stroke-width="0.7"/>
<text transform="translate(44.7 393.8) scale(0.8 1)" font-size="5.8" fill="#1a1a1a" stroke="#1a1a1a" stroke-width="0.12" text-anchor="middle" dominant-baseline="central">2</text>
<line x1="50.9" y1="387.2" x2="50.9" y2="389.4" stroke="#3a3a3a" stroke-width="0.7"/>
<text transform="translate(50.9 393.8) scale(0.8 1)" font-size="5.8" fill="#1a1a1a" stroke="#1a1a1a" stroke-width="0.12" text-anchor="middle" dominant-baseline="central">3</text>
<line x1="57" y1="387.2" x2="57" y2="389.4" stroke="#3a3a3a" stroke-width="0.7"/>
<text transform="translate(57 393.8) scale(0.8 1)" font-size="5.8" fill="#1a1a1a" stroke="#1a1a1a" stroke-width="0.12" text-anchor="middle" dominant-baseline="central">4</text>
<line x1="63.1" y1="387.2" x2="63.1" y2="389.4" stroke="#3a3a3a" stroke-width="0.7"/>
<text transform="translate(63.1 393.8) scale(0.8 1)" font-size="5.8" fill="#1a1a1a" stroke="#1a1a1a" stroke-width="0.12" text-anchor="middle" dominant-baseline="central">5</text>
<line x1="69.2" y1="387.2" x2="69.2" y2="389.4" stroke="#3a3a3a" stroke-width="0.7"/>
<text transform="translate(69.2 393.8) scale(0.8 1)" font-size="5.8" fill="#1a1a1a" stroke="#1a1a1a" stroke-width="0.12" text-anchor="middle" dominant-baseline="central">6</text>
<line x1="75.4" y1="387.2" x2="75.4" y2="389.4" stroke="#3a3a3a" stroke-width="0.7"/>
<text transform="translate(75.4 393.8) scale(0.8 1)" font-size="5.8" fill="#1a1a1a" stroke="#1a1a1a" stroke-width="0.12" text-anchor="middle" dominant-baseline="central">7</text>
<line x1="81.5" y1="387.2" x2="81.5" y2="389.4" stroke="#3a3a3a" stroke-width="0.7"/>
<text transform="translate(81.5 393.8) scale(0.8 1)" font-size="5.8" fill="#1a1a1a" stroke="#1a1a1a" stroke-width="0.12" text-anchor="middle" dominant-baseline="central">8</text>
<line x1="87.6" y1="387.2" x2="87.6" y2="389.4" stroke="#3a3a3a" stroke-width="0.7"/>
<text transform="translate(87.6 393.8) scale(0.8 1)" font-size="5.8" fill="#1a1a1a" stroke="#1a1a1a" stroke-width="0.12" text-anchor="middle" dominant-baseline="central">9</text>
<line x1="93.8" y1="387.2" x2="93.8" y2="389.4" stroke="#3a3a3a" stroke-width="0.7"/>
<text transform="translate(93.8 393.8) scale(0.8 1)" font-size="5.8" fill="#1a1a1a" stroke="#1a1a1a" stroke-width="0.12" text-anchor="middle" dominant-baseline="central">10</text>
<line x1="99.9" y1="387.2" x2="99.9" y2="389.4" stroke="#3a3a3a" stroke-width="0.7"/>
<text transform="translate(99.9 393.8) scale(0.8 1)" font-size="5.8" fill="#1a1a1a" stroke="#1a1a1a" stroke-width="0.12" text-anchor="middle" dominant-baseline="central">11</text>
<line x1="106" y1="387.2" x2="106" y2="389.4" stroke="#3a3a3a" stroke-width="0.7"/>
<text transform="translate(106 393.8) scale(0.8 1)" font-size="5.8" fill="#1a1a1a" stroke="#1a1a1a" stroke-width="0.12" text-anchor="middle" dominant-baseline="central">12</text>
<line x1="112.1" y1="387.2" x2="112.1" y2="389.4" stroke="#3a3a3a" stroke-width="0.7"/>
<text transform="translate(112.1 393.8) scale(0.8 1)" font-size="5.8" fill="#1a1a1a" stroke="#1a1a1a" stroke-width="0.12" text-anchor="middle" dominant-baseline="central">13</text>
<line x1="118.3" y1="387.2" x2="118.3" y2="389.4" stroke="#3a3a3a" stroke-width="0.7"/>
<text transform="translate(118.3 393.8) scale(0.8 1)" font-size="5.8" fill="#1a1a1a" stroke="#1a1a1a" stroke-width="0.12" text-anchor="middle" dominant-baseline="central">14</text>
<line x1="124.4" y1="387.2" x2="124.4" y2="389.4" stroke="#3a3a3a" stroke-width="0.7"/>
<text transform="translate(124.4 393.8) scale(0.8 1)" font-size="5.8" fill="#1a1a1a" stroke="#1a1a1a" stroke-width="0.12" text-anchor="middle" dominant-baseline="central">15</text>
<line x1="130.5" y1="387.2" x2="130.5" y2="389.4" stroke="#3a3a3a" stroke-width="0.7"/>
<text transform="translate(130.5 393.8) scale(0.8 1)" font-size="5.8" fill="#1a1a1a" stroke="#1a1a1a" stroke-width="0.12" text-anchor="middle" dominant-baseline="central">16</text>
<line x1="136.7" y1="387.2" x2="136.7" y2="389.4" stroke="#3a3a3a" stroke-width="0.7"/>
<text transform="translate(136.7 393.8) scale(0.8 1)" font-size="5.8" fill="#1a1a1a" stroke="#1a1a1a" stroke-width="0.12" text-anchor="middle" dominant-baseline="central">17</text>
<line x1="142.8" y1="387.2" x2="142.8" y2="389.4" stroke="#3a3a3a" stroke-width="0.7"/>
<text transform="translate(142.8 393.8) scale(0.8 1)" font-size="5.8" fill="#1a1a1a" stroke="#1a1a1a" stroke-width="0.12" text-anchor="middle" dominant-baseline="central">18</text>
<line x1="148.9" y1="387.2" x2="148.9" y2="389.4" stroke="#3a3a3a" stroke-width="0.7"/>
<text transform="translate(148.9 393.8) scale(0.8 1)" font-size="5.8" fill="#1a1a1a" stroke="#1a1a1a" stroke-width="0.12" text-anchor="middle" dominant-baseline="central">19</text>
<line x1="155" y1="387.2" x2="155" y2="389.4" stroke="#3a3a3a" stroke-width="0.7"/>
<text transform="translate(155 393.8) scale(0.8 1)" font-size="5.8" fill="#1a1a1a" stroke="#1a1a1a" stroke-width="0.12" text-anchor="middle" dominant-baseline="central">20</text>
<line x1="161.2" y1="387.2" x2="161.2" y2="389.4" stroke="#3a3a3a" stroke-width="0.7"/>
<text transform="translate(161.2 393.8) scale(0.8 1)" font-size="5.8" fill="#1a1a1a" stroke="#1a1a1a" stroke-width="0.12" text-anchor="middle" dominant-baseline="central">21</text>
<line x1="167.3" y1="387.2" x2="167.3" y2="389.4" stroke="#3a3a3a" stroke-width="0.7"/>
<text transform="translate(167.3 393.8) scale(0.8 1)" font-size="5.8" fill="#1a1a1a" stroke="#1a1a1a" stroke-width="0.12" text-anchor="middle" dominant-baseline="central">22</text>
<line x1="173.4" y1="387.2" x2="173.4" y2="389.4" stroke="#3a3a3a" stroke-width="0.7"/>
<text transform="translate(173.4 393.8) scale(0.8 1)" font-size="5.8" fill="#1a1a1a" stroke="#1a1a1a" stroke-width="0.12" text-anchor="middle" dominant-baseline="central">23</text>
<line x1="179.6" y1="387.2" x2="179.6" y2="389.4" stroke="#3a3a3a" stroke-width="0.7"/>
<text transform="translate(179.6 393.8) scale(0.8 1)" font-size="5.8" fill="#1a1a1a" stroke="#1a1a1a" stroke-width="0.12" text-anchor="middle" dominant-baseline="central">24</text>
<line x1="185.7" y1="387.2" x2="185.7" y2="389.4" stroke="#3a3a3a" stroke-width="0.7"/>
<text transform="translate(185.7 393.8) scale(0.8 1)" font-size="5.8" fill="#1a1a1a" stroke="#1a1a1a" stroke-width="0.12" text-anchor="middle" dominant-baseline="central">25</text>
<line x1="191.8" y1="387.2" x2="191.8" y2="389.4" stroke="#3a3a3a" stroke-width="0.7"/>
<text transform="translate(191.8 393.8) scale(0.8 1)" font-size="5.8" fill="#1a1a1a" stroke="#1a1a1a" stroke-width="0.12" text-anchor="middle" dominant-baseline="central">26</text>
<line x1="197.9" y1="387.2" x2="197.9" y2="389.4" stroke="#3a3a3a" stroke-width="0.7"/>
<text transform="translate(197.9 393.8) scale(0.8 1)" font-size="5.8" fill="#1a1a1a" stroke="#1a1a1a" stroke-width="0.12" text-anchor="middle" dominant-baseline="central">27</text>
<line x1="204.1" y1="387.2" x2="204.1" y2="389.4" stroke="#3a3a3a" stroke-width="0.7"/>
<text transform="translate(204.1 393.8) scale(0.8 1)" font-size="5.8" fill="#1a1a1a" stroke="#1a1a1a" stroke-width="0.12" text-anchor="middle" dominant-baseline="central">28</text>
<line x1="210.2" y1="387.2" x2="210.2" y2="389.4" stroke="#3a3a3a" stroke-width="0.7"/>
<text transform="translate(210.2 393.8) scale(0.8 1)" font-size="5.8" fill="#1a1a1a" stroke="#1a1a1a" stroke-width="0.12" text-anchor="middle" dominant-baseline="central">29</text>
<text x="14" y="338.7" transform="rotate(-90 14 338.7)" font-size="5.3" fill="#1a1a1a" stroke="#1a1a1a" stroke-width="0.1" text-anchor="middle" dominant-baseline="central">CGE Index</text>
<text x="123.3" y="406.3" font-size="5.2" font-style="italic" fill="#1a1a1a" stroke="#1a1a1a" stroke-width="0.1" text-anchor="middle">Salmo salar chromosome</text>
<text x="188.3" y="326.8" font-size="3.3" fill="#111" stroke="#111" stroke-width="0.08">Coverage</text>
<circle cx="191.7" cy="332" r="1.1" fill="#000"/>
<text x="197.8" y="332" font-size="3.2" fill="#111" stroke="#111" stroke-width="0.08" dominant-baseline="central">5,000.00</text>
<circle cx="191.7" cy="337.6" r="1.8" fill="#000"/>
<text x="197.8" y="337.6" font-size="3.2" fill="#111" stroke="#111" stroke-width="0.08" dominant-baseline="central">12,818.40</text>
<circle cx="191.7" cy="344.5" r="3" fill="#000"/>
<text x="197.8" y="344.5" font-size="3.2" fill="#111" stroke="#111" stroke-width="0.08" dominant-baseline="central">20,357.00</text>
<defs><linearGradient id="cb32" x1="0" y1="0" x2="0" y2="1"><stop offset="0" stop-color="#1a34f6"/><stop offset="0.5" stop-color="#7a2c9c"/><stop offset="1" stop-color="#ee3c2a"/></linearGradient></defs>
<rect x="227.7" y="289.8" width="7.8" height="97.1" fill="url(#cb32)"/>
<text x="233.1" y="286.4" font-size="6" fill="#111" stroke="#111" stroke-width="0.1" text-anchor="middle">CGE</text>
<text x="239.9" y="290.6" font-size="4.6" fill="#111" stroke="#111" stroke-width="0.12" dominant-baseline="central">100</text>
<text x="239.9" y="310" font-size="4.6" fill="#111" stroke="#111" stroke-width="0.12" dominant-baseline="central">80</text>
<text x="239.9" y="329.3" font-size="4.6" fill="#111" stroke="#111" stroke-width="0.12" dominant-baseline="central">60</text>
<text x="239.9" y="348.7" font-size="4.6" fill="#111" stroke="#111" stroke-width="0.12" dominant-baseline="central">40</text>
<text x="239.9" y="368" font-size="4.6" fill="#111" stroke="#111" stroke-width="0.12" dominant-baseline="central">20</text>
<line x1="316.4" y1="369.1" x2="500" y2="369.1" stroke="#f4aaaa" stroke-width="0.6"/>
<circle cx="323.3" cy="384.3" r="1.9" fill="#e73b30" fill-opacity="0.6"/>
<circle cx="323.3" cy="386.1" r="1.8" fill="#eb3b2c" fill-opacity="0.8"/>
<circle cx="329.5" cy="381.6" r="2.4" fill="#e03a37" fill-opacity="0.6"/>
<circle cx="329.5" cy="385.2" r="1.6" fill="#e93b2e" fill-opacity="0.7"/>
<circle cx="335.6" cy="369.1" r="2.1" fill="#bf3557" fill-opacity="0.6"/>
<circle cx="335.6" cy="385.2" r="2.6" fill="#e93b2e" fill-opacity="0.7"/>
<circle cx="335.6" cy="385.7" r="1.8" fill="#ea3b2d" fill-opacity="0.6"/>
<circle cx="341.8" cy="378.1" r="1.9" fill="#d63840" fill-opacity="0.6"/>
<circle cx="347.9" cy="386.1" r="1.5" fill="#eb3b2c" fill-opacity="0.6"/>
<circle cx="354.1" cy="366.4" r="2.2" fill="#b8345e" fill-opacity="0.6"/>
<circle cx="354.1" cy="386.1" r="1.5" fill="#eb3b2c" fill-opacity="0.6"/>
<circle cx="360.2" cy="378.1" r="1.9" fill="#d63840" fill-opacity="0.6"/>
<circle cx="378.7" cy="384.3" r="1.7" fill="#e73b30" fill-opacity="0.6"/>
<circle cx="384.9" cy="377.2" r="3.2" fill="#d43843" fill-opacity="0.6"/>
<circle cx="384.9" cy="386.1" r="1.8" fill="#eb3b2c" fill-opacity="0.8"/>
<circle cx="391" cy="385.2" r="1.9" fill="#e93b2e" fill-opacity="0.8"/>
<circle cx="397.2" cy="380.7" r="1.9" fill="#dd3939" fill-opacity="0.6"/>
<circle cx="397.2" cy="386.1" r="1.7" fill="#eb3b2c" fill-opacity="0.8"/>
<circle cx="403.3" cy="385.2" r="1.9" fill="#e93b2e" fill-opacity="0.8"/>
<circle cx="409.5" cy="386.1" r="1.6" fill="#eb3b2c" fill-opacity="0.6"/>
<circle cx="415.7" cy="385.2" r="3.2" fill="#e93b2e" fill-opacity="0.6"/>
<circle cx="421.8" cy="385.2" r="1.6" fill="#e93b2e" fill-opacity="0.6"/>
<circle cx="428" cy="377.2" r="2.2" fill="#d43843" fill-opacity="0.6"/>
<circle cx="428" cy="386.1" r="1.5" fill="#eb3b2c" fill-opacity="0.6"/>
<circle cx="440.3" cy="384.3" r="2" fill="#e73b30" fill-opacity="0.6"/>
<circle cx="446.4" cy="386.1" r="1.5" fill="#eb3b2c" fill-opacity="0.6"/>
<circle cx="452.6" cy="384.3" r="2" fill="#e73b30" fill-opacity="0.6"/>
<circle cx="471.1" cy="386.1" r="1.8" fill="#eb3b2c" fill-opacity="0.9"/>
<circle cx="477.2" cy="385.2" r="1.5" fill="#e93b2e" fill-opacity="0.6"/>
<circle cx="483.4" cy="386.1" r="1" fill="#eb3b2c" fill-opacity="0.6"/>
<circle cx="495.7" cy="386.1" r="1" fill="#eb3b2c" fill-opacity="0.6"/>
<circle cx="329.5" cy="297.6" r="1.2" fill="#5a80f0"/>
<circle cx="360.2" cy="297.6" r="1.2" fill="#5a80f0"/>
<circle cx="366.4" cy="297.6" r="1.2" fill="#5a80f0"/>
<circle cx="372.6" cy="297.6" r="1.4" fill="#2a44ea"/>
<circle cx="384.9" cy="297.6" r="1.2" fill="#5a80f0"/>
<circle cx="391" cy="297.6" r="1.2" fill="#5a80f0"/>
<circle cx="409.5" cy="297.6" r="1.2" fill="#5a80f0"/>
<circle cx="421.8" cy="297.6" r="1.2" fill="#5a80f0"/>
<circle cx="440.3" cy="297.6" r="1.2" fill="#5a80f0"/>
<circle cx="464.9" cy="297.6" r="1.2" fill="#5a80f0"/>
<circle cx="483.4" cy="297.6" r="1.2" fill="#5a80f0"/>
<path d="M316.4 288.6V387H498.5" fill="none" stroke="#3a3a3a" stroke-width="0.9"/>
<line x1="314.8" y1="387" x2="316.4" y2="387" stroke="#3a3a3a" stroke-width="0.7"/>
<text x="314.6" y="387" font-size="5.6" fill="#1a1a1a" stroke="#1a1a1a" stroke-width="0.12" text-anchor="end" dominant-baseline="central">0</text>
<line x1="314.8" y1="369.1" x2="316.4" y2="369.1" stroke="#3a3a3a" stroke-width="0.7"/>
<text x="314.6" y="369.1" font-size="5.6" fill="#1a1a1a" stroke="#1a1a1a" stroke-width="0.12" text-anchor="end" dominant-baseline="central">20</text>
<line x1="314.8" y1="351.2" x2="316.4" y2="351.2" stroke="#3a3a3a" stroke-width="0.7"/>
<text x="314.6" y="351.2" font-size="5.6" fill="#1a1a1a" stroke="#1a1a1a" stroke-width="0.12" text-anchor="end" dominant-baseline="central">40</text>
<line x1="314.8" y1="333.4" x2="316.4" y2="333.4" stroke="#3a3a3a" stroke-width="0.7"/>
<text x="314.6" y="333.4" font-size="5.6" fill="#1a1a1a" stroke="#1a1a1a" stroke-width="0.12" text-anchor="end" dominant-baseline="central">60</text>
<line x1="314.8" y1="315.5" x2="316.4" y2="315.5" stroke="#3a3a3a" stroke-width="0.7"/>
<text x="314.6" y="315.5" font-size="5.6" fill="#1a1a1a" stroke="#1a1a1a" stroke-width="0.12" text-anchor="end" dominant-baseline="central">80</text>
<line x1="314.8" y1="297.6" x2="316.4" y2="297.6" stroke="#3a3a3a" stroke-width="0.7"/>
<text x="314.6" y="297.6" font-size="5.6" fill="#1a1a1a" stroke="#1a1a1a" stroke-width="0.12" text-anchor="end" dominant-baseline="central">100</text>
<line x1="323.3" y1="387" x2="323.3" y2="389.2" stroke="#3a3a3a" stroke-width="0.7"/>
<text transform="translate(323.3 393.6) scale(0.8 1)" font-size="5.8" fill="#1a1a1a" stroke="#1a1a1a" stroke-width="0.12" text-anchor="middle" dominant-baseline="central">1</text>
<line x1="329.5" y1="387" x2="329.5" y2="389.2" stroke="#3a3a3a" stroke-width="0.7"/>
<text transform="translate(329.5 393.6) scale(0.8 1)" font-size="5.8" fill="#1a1a1a" stroke="#1a1a1a" stroke-width="0.12" text-anchor="middle" dominant-baseline="central">2</text>
<line x1="335.6" y1="387" x2="335.6" y2="389.2" stroke="#3a3a3a" stroke-width="0.7"/>
<text transform="translate(335.6 393.6) scale(0.8 1)" font-size="5.8" fill="#1a1a1a" stroke="#1a1a1a" stroke-width="0.12" text-anchor="middle" dominant-baseline="central">3</text>
<line x1="341.8" y1="387" x2="341.8" y2="389.2" stroke="#3a3a3a" stroke-width="0.7"/>
<text transform="translate(341.8 393.6) scale(0.8 1)" font-size="5.8" fill="#1a1a1a" stroke="#1a1a1a" stroke-width="0.12" text-anchor="middle" dominant-baseline="central">4</text>
<line x1="347.9" y1="387" x2="347.9" y2="389.2" stroke="#3a3a3a" stroke-width="0.7"/>
<text transform="translate(347.9 393.6) scale(0.8 1)" font-size="5.8" fill="#1a1a1a" stroke="#1a1a1a" stroke-width="0.12" text-anchor="middle" dominant-baseline="central">5</text>
<line x1="354.1" y1="387" x2="354.1" y2="389.2" stroke="#3a3a3a" stroke-width="0.7"/>
<text transform="translate(354.1 393.6) scale(0.8 1)" font-size="5.8" fill="#1a1a1a" stroke="#1a1a1a" stroke-width="0.12" text-anchor="middle" dominant-baseline="central">6</text>
<line x1="360.2" y1="387" x2="360.2" y2="389.2" stroke="#3a3a3a" stroke-width="0.7"/>
<text transform="translate(360.2 393.6) scale(0.8 1)" font-size="5.8" fill="#1a1a1a" stroke="#1a1a1a" stroke-width="0.12" text-anchor="middle" dominant-baseline="central">7</text>
<line x1="366.4" y1="387" x2="366.4" y2="389.2" stroke="#3a3a3a" stroke-width="0.7"/>
<text transform="translate(366.4 393.6) scale(0.8 1)" font-size="5.8" fill="#1a1a1a" stroke="#1a1a1a" stroke-width="0.12" text-anchor="middle" dominant-baseline="central">8</text>
<line x1="372.6" y1="387" x2="372.6" y2="389.2" stroke="#3a3a3a" stroke-width="0.7"/>
<text transform="translate(372.6 393.6) scale(0.8 1)" font-size="5.8" fill="#1a1a1a" stroke="#1a1a1a" stroke-width="0.12" text-anchor="middle" dominant-baseline="central">9</text>
<line x1="378.7" y1="387" x2="378.7" y2="389.2" stroke="#3a3a3a" stroke-width="0.7"/>
<text transform="translate(378.7 393.6) scale(0.8 1)" font-size="5.8" fill="#1a1a1a" stroke="#1a1a1a" stroke-width="0.12" text-anchor="middle" dominant-baseline="central">10</text>
<line x1="384.9" y1="387" x2="384.9" y2="389.2" stroke="#3a3a3a" stroke-width="0.7"/>
<text transform="translate(384.9 393.6) scale(0.8 1)" font-size="5.8" fill="#1a1a1a" stroke="#1a1a1a" stroke-width="0.12" text-anchor="middle" dominant-baseline="central">11</text>
<line x1="391" y1="387" x2="391" y2="389.2" stroke="#3a3a3a" stroke-width="0.7"/>
<text transform="translate(391 393.6) scale(0.8 1)" font-size="5.8" fill="#1a1a1a" stroke="#1a1a1a" stroke-width="0.12" text-anchor="middle" dominant-baseline="central">12</text>
<line x1="397.2" y1="387" x2="397.2" y2="389.2" stroke="#3a3a3a" stroke-width="0.7"/>
<text transform="translate(397.2 393.6) scale(0.8 1)" font-size="5.8" fill="#1a1a1a" stroke="#1a1a1a" stroke-width="0.12" text-anchor="middle" dominant-baseline="central">13</text>
<line x1="403.3" y1="387" x2="403.3" y2="389.2" stroke="#3a3a3a" stroke-width="0.7"/>
<text transform="translate(403.3 393.6) scale(0.8 1)" font-size="5.8" fill="#1a1a1a" stroke="#1a1a1a" stroke-width="0.12" text-anchor="middle" dominant-baseline="central">14</text>
<line x1="409.5" y1="387" x2="409.5" y2="389.2" stroke="#3a3a3a" stroke-width="0.7"/>
<text transform="translate(409.5 393.6) scale(0.8 1)" font-size="5.8" fill="#1a1a1a" stroke="#1a1a1a" stroke-width="0.12" text-anchor="middle" dominant-baseline="central">15</text>
<line x1="415.7" y1="387" x2="415.7" y2="389.2" stroke="#3a3a3a" stroke-width="0.7"/>
<text transform="translate(415.7 393.6) scale(0.8 1)" font-size="5.8" fill="#1a1a1a" stroke="#1a1a1a" stroke-width="0.12" text-anchor="middle" dominant-baseline="central">16</text>
<line x1="421.8" y1="387" x2="421.8" y2="389.2" stroke="#3a3a3a" stroke-width="0.7"/>
<text transform="translate(421.8 393.6) scale(0.8 1)" font-size="5.8" fill="#1a1a1a" stroke="#1a1a1a" stroke-width="0.12" text-anchor="middle" dominant-baseline="central">17</text>
<line x1="428" y1="387" x2="428" y2="389.2" stroke="#3a3a3a" stroke-width="0.7"/>
<text transform="translate(428 393.6) scale(0.8 1)" font-size="5.8" fill="#1a1a1a" stroke="#1a1a1a" stroke-width="0.12" text-anchor="middle" dominant-baseline="central">18</text>
<line x1="434.1" y1="387" x2="434.1" y2="389.2" stroke="#3a3a3a" stroke-width="0.7"/>
<text transform="translate(434.1 393.6) scale(0.8 1)" font-size="5.8" fill="#1a1a1a" stroke="#1a1a1a" stroke-width="0.12" text-anchor="middle" dominant-baseline="central">19</text>
<line x1="440.3" y1="387" x2="440.3" y2="389.2" stroke="#3a3a3a" stroke-width="0.7"/>
<text transform="translate(440.3 393.6) scale(0.8 1)" font-size="5.8" fill="#1a1a1a" stroke="#1a1a1a" stroke-width="0.12" text-anchor="middle" dominant-baseline="central">20</text>
<line x1="446.4" y1="387" x2="446.4" y2="389.2" stroke="#3a3a3a" stroke-width="0.7"/>
<text transform="translate(446.4 393.6) scale(0.8 1)" font-size="5.8" fill="#1a1a1a" stroke="#1a1a1a" stroke-width="0.12" text-anchor="middle" dominant-baseline="central">21</text>
<line x1="452.6" y1="387" x2="452.6" y2="389.2" stroke="#3a3a3a" stroke-width="0.7"/>
<text transform="translate(452.6 393.6) scale(0.8 1)" font-size="5.8" fill="#1a1a1a" stroke="#1a1a1a" stroke-width="0.12" text-anchor="middle" dominant-baseline="central">22</text>
<line x1="458.8" y1="387" x2="458.8" y2="389.2" stroke="#3a3a3a" stroke-width="0.7"/>
<text transform="translate(458.8 393.6) scale(0.8 1)" font-size="5.8" fill="#1a1a1a" stroke="#1a1a1a" stroke-width="0.12" text-anchor="middle" dominant-baseline="central">23</text>
<line x1="464.9" y1="387" x2="464.9" y2="389.2" stroke="#3a3a3a" stroke-width="0.7"/>
<text transform="translate(464.9 393.6) scale(0.8 1)" font-size="5.8" fill="#1a1a1a" stroke="#1a1a1a" stroke-width="0.12" text-anchor="middle" dominant-baseline="central">24</text>
<line x1="471.1" y1="387" x2="471.1" y2="389.2" stroke="#3a3a3a" stroke-width="0.7"/>
<text transform="translate(471.1 393.6) scale(0.8 1)" font-size="5.8" fill="#1a1a1a" stroke="#1a1a1a" stroke-width="0.12" text-anchor="middle" dominant-baseline="central">25</text>
<line x1="477.2" y1="387" x2="477.2" y2="389.2" stroke="#3a3a3a" stroke-width="0.7"/>
<text transform="translate(477.2 393.6) scale(0.8 1)" font-size="5.8" fill="#1a1a1a" stroke="#1a1a1a" stroke-width="0.12" text-anchor="middle" dominant-baseline="central">26</text>
<line x1="483.4" y1="387" x2="483.4" y2="389.2" stroke="#3a3a3a" stroke-width="0.7"/>
<text transform="translate(483.4 393.6) scale(0.8 1)" font-size="5.8" fill="#1a1a1a" stroke="#1a1a1a" stroke-width="0.12" text-anchor="middle" dominant-baseline="central">27</text>
<line x1="489.5" y1="387" x2="489.5" y2="389.2" stroke="#3a3a3a" stroke-width="0.7"/>
<text transform="translate(489.5 393.6) scale(0.8 1)" font-size="5.8" fill="#1a1a1a" stroke="#1a1a1a" stroke-width="0.12" text-anchor="middle" dominant-baseline="central">28</text>
<line x1="495.7" y1="387" x2="495.7" y2="389.2" stroke="#3a3a3a" stroke-width="0.7"/>
<text transform="translate(495.7 393.6) scale(0.8 1)" font-size="5.8" fill="#1a1a1a" stroke="#1a1a1a" stroke-width="0.12" text-anchor="middle" dominant-baseline="central">29</text>
<text x="297.6" y="337.8" transform="rotate(-90 297.6 337.8)" font-size="5.3" fill="#1a1a1a" stroke="#1a1a1a" stroke-width="0.1" text-anchor="middle" dominant-baseline="central">CGE Index</text>
<text x="408.5" y="406.3" font-size="5.2" font-style="italic" fill="#1a1a1a" stroke="#1a1a1a" stroke-width="0.1" text-anchor="middle">Salmo salar chromosome</text>
<text x="458.2" y="325.8" font-size="3.3" fill="#111" stroke="#111" stroke-width="0.08">Coverage</text>
<circle cx="462" cy="330.4" r="1.2" fill="#000"/>
<text x="469.2" y="330.4" font-size="3.2" fill="#111" stroke="#111" stroke-width="0.08" dominant-baseline="central">5,000.00</text>
<circle cx="462" cy="336" r="2" fill="#000"/>
<text x="469.2" y="336" font-size="3.2" fill="#111" stroke="#111" stroke-width="0.08" dominant-baseline="central">13,079.17</text>
<circle cx="462" cy="343.4" r="3.3" fill="#000"/>
<text x="469.2" y="343.4" font-size="3.2" fill="#111" stroke="#111" stroke-width="0.08" dominant-baseline="central">26,060.00</text>
<defs><linearGradient id="cb316" x1="0" y1="0" x2="0" y2="1"><stop offset="0" stop-color="#1a34f6"/><stop offset="0.5" stop-color="#7a2c9c"/><stop offset="1" stop-color="#ee3c2a"/></linearGradient></defs>
<rect x="513.6" y="289.2" width="7.8" height="97.8" fill="url(#cb316)"/>
<text x="519" y="285.8" font-size="6" fill="#111" stroke="#111" stroke-width="0.1" text-anchor="middle">CGE</text>
<text x="526.1" y="288.4" font-size="4.6" fill="#111" stroke="#111" stroke-width="0.12" dominant-baseline="central">100</text>
<text x="526.1" y="308.1" font-size="4.6" fill="#111" stroke="#111" stroke-width="0.12" dominant-baseline="central">80</text>
<text x="526.1" y="327.9" font-size="4.6" fill="#111" stroke="#111" stroke-width="0.12" dominant-baseline="central">60</text>
<text x="526.1" y="347.6" font-size="4.6" fill="#111" stroke="#111" stroke-width="0.12" dominant-baseline="central">40</text>
<text x="526.1" y="367.4" font-size="4.6" fill="#111" stroke="#111" stroke-width="0.12" dominant-baseline="central">20</text>
<text x="526.1" y="387.1" font-size="4.6" fill="#111" stroke="#111" stroke-width="0.12" dominant-baseline="central">0</text>
</svg></body></html>
